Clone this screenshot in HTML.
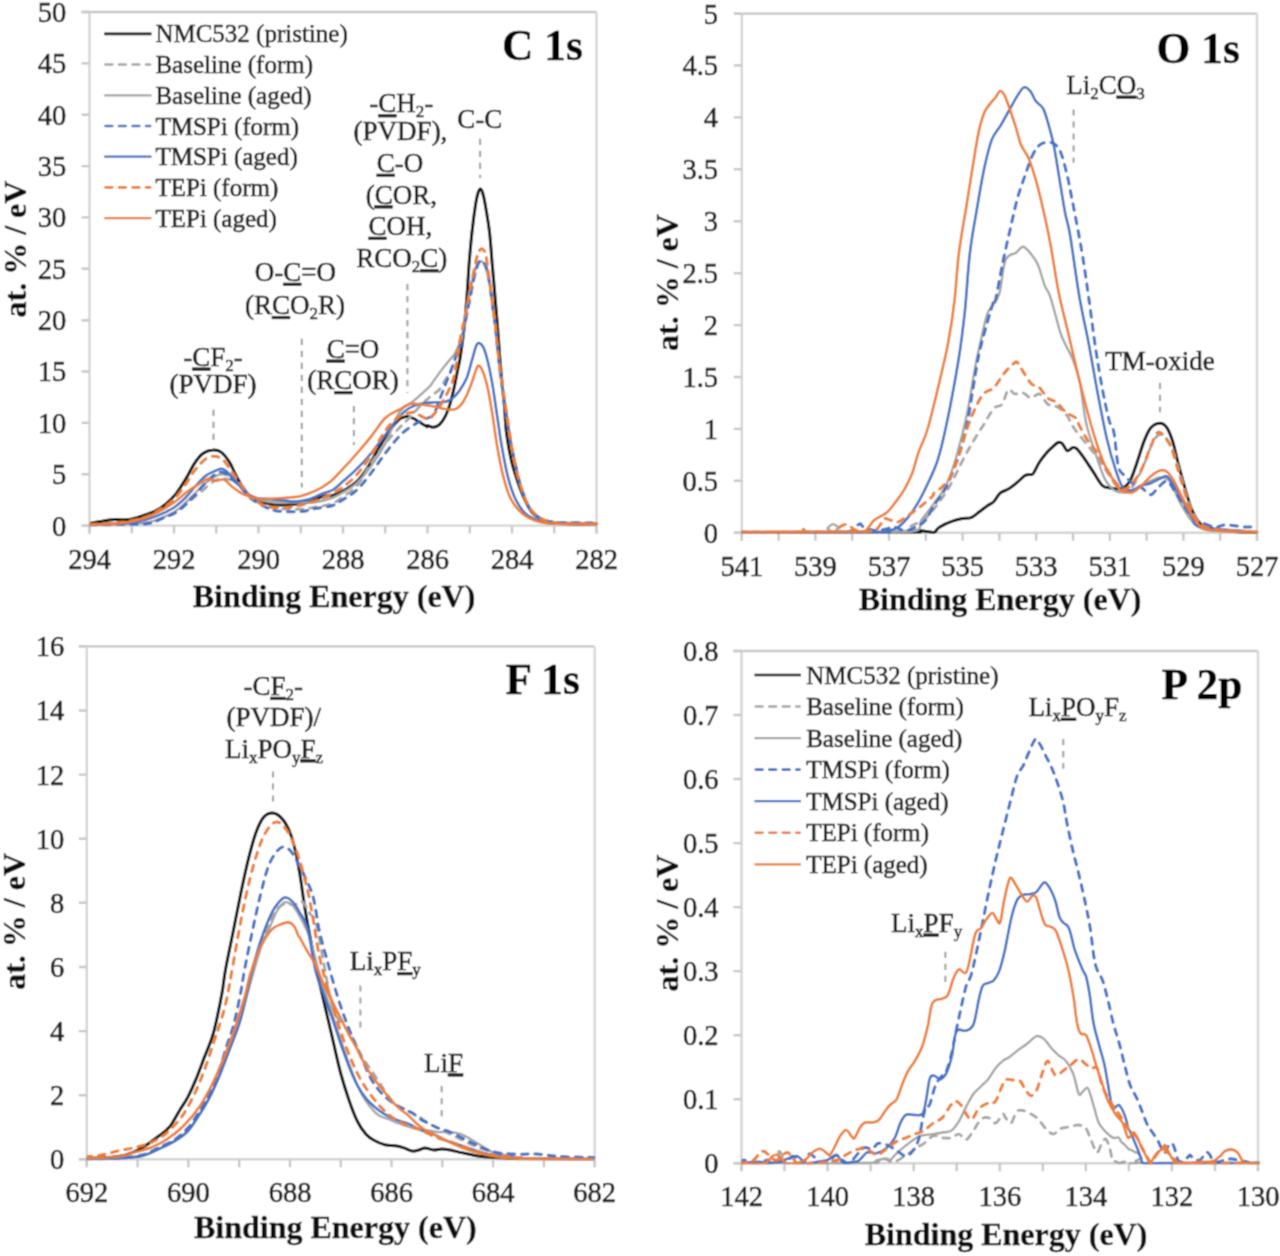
<!DOCTYPE html>
<html><head><meta charset="utf-8"><style>
html,body{margin:0;padding:0;background:#fff;}
svg{display:block;}
text{font-family:"Liberation Serif",serif;fill:#1e1e1e;stroke:#1e1e1e;stroke-width:0.55px;}
.tk{font-size:28.5px;}
.at{font-size:32px;font-weight:bold;fill:#111;stroke:#111;stroke-width:0.3px;}
.pt{font-size:43.5px;font-weight:bold;fill:#000;stroke:#000;stroke-width:0.3px;}
.lg{font-size:25px;}
.an{font-size:27px;}
.sb{font-size:17px;}
</style></head><body>
<svg width="1280" height="1256" viewBox="0 0 1280 1256">
<defs><filter id="bl" x="0" y="0" width="1280" height="1256" filterUnits="userSpaceOnUse"><feConvolveMatrix order="3" kernelMatrix="0.0439 0.1217 0.0439 0.1217 0.3377 0.1217 0.0439 0.1217 0.0439" edgeMode="duplicate" preserveAlpha="true"/></filter></defs>
<g filter="url(#bl)">
<rect width="1280" height="1256" fill="#fff"/>
<path d="M81.5 12.0H596.5" fill="none" stroke="#c6c6c6" stroke-width="2.4"/>
<path d="M596.5 12.0V533.6" fill="none" stroke="#d6d6d6" stroke-width="2.4"/>
<path d="M89.5 12.0V533.6M81.5 525.6H596.5" fill="none" stroke="#d4d4d4" stroke-width="2.4"/>
<path d="M81.5 525.6H89.5M81.5 474.2H89.5M81.5 422.9H89.5M81.5 371.5H89.5M81.5 320.2H89.5M81.5 268.8H89.5M81.5 217.4H89.5M81.5 166.1H89.5M81.5 114.7H89.5M81.5 63.4H89.5M81.5 12.0H89.5M89.5 525.6V533.6M131.8 525.6V533.6M174.0 525.6V533.6M216.2 525.6V533.6M258.5 525.6V533.6M300.8 525.6V533.6M343.0 525.6V533.6M385.2 525.6V533.6M427.5 525.6V533.6M469.8 525.6V533.6M512.0 525.6V533.6M554.2 525.6V533.6M596.5 525.6V533.6" fill="none" stroke="#c8c8c8" stroke-width="2.4"/>
<text x="66.3" y="535.5" text-anchor="end" class="tk">0</text>
<text x="66.3" y="484.1" text-anchor="end" class="tk">5</text>
<text x="66.3" y="432.8" text-anchor="end" class="tk">10</text>
<text x="66.3" y="381.4" text-anchor="end" class="tk">15</text>
<text x="66.3" y="330.1" text-anchor="end" class="tk">20</text>
<text x="66.3" y="278.7" text-anchor="end" class="tk">25</text>
<text x="66.3" y="227.3" text-anchor="end" class="tk">30</text>
<text x="66.3" y="176.0" text-anchor="end" class="tk">35</text>
<text x="66.3" y="124.6" text-anchor="end" class="tk">40</text>
<text x="66.3" y="73.3" text-anchor="end" class="tk">45</text>
<text x="66.3" y="21.9" text-anchor="end" class="tk">50</text>
<text x="89.5" y="568.6" text-anchor="middle" class="tk">294</text>
<text x="174.0" y="568.6" text-anchor="middle" class="tk">292</text>
<text x="258.5" y="568.6" text-anchor="middle" class="tk">290</text>
<text x="343.0" y="568.6" text-anchor="middle" class="tk">288</text>
<text x="427.5" y="568.6" text-anchor="middle" class="tk">286</text>
<text x="512.0" y="568.6" text-anchor="middle" class="tk">284</text>
<text x="596.5" y="568.6" text-anchor="middle" class="tk">282</text>
<path d="M733.8 13.6H1257.0" fill="none" stroke="#c6c6c6" stroke-width="2.4"/>
<path d="M1257.0 13.6V540.7" fill="none" stroke="#d6d6d6" stroke-width="2.4"/>
<path d="M741.8 13.6V540.7M733.8 532.7H1257.0" fill="none" stroke="#d4d4d4" stroke-width="2.4"/>
<path d="M733.8 532.7H741.8M733.8 480.8H741.8M733.8 428.9H741.8M733.8 377.0H741.8M733.8 325.1H741.8M733.8 273.2H741.8M733.8 221.2H741.8M733.8 169.3H741.8M733.8 117.4H741.8M733.8 65.5H741.8M733.8 13.6H741.8M741.8 532.7V540.7M778.6 532.7V540.7M815.4 532.7V540.7M852.2 532.7V540.7M889.0 532.7V540.7M925.8 532.7V540.7M962.6 532.7V540.7M999.4 532.7V540.7M1036.2 532.7V540.7M1073.0 532.7V540.7M1109.8 532.7V540.7M1146.6 532.7V540.7M1183.4 532.7V540.7M1220.2 532.7V540.7M1257.0 532.7V540.7" fill="none" stroke="#c8c8c8" stroke-width="2.4"/>
<text x="718.0" y="542.6" text-anchor="end" class="tk">0</text>
<text x="718.0" y="490.7" text-anchor="end" class="tk">0.5</text>
<text x="718.0" y="438.8" text-anchor="end" class="tk">1</text>
<text x="718.0" y="386.9" text-anchor="end" class="tk">1.5</text>
<text x="718.0" y="335.0" text-anchor="end" class="tk">2</text>
<text x="718.0" y="283.1" text-anchor="end" class="tk">2.5</text>
<text x="718.0" y="231.1" text-anchor="end" class="tk">3</text>
<text x="718.0" y="179.2" text-anchor="end" class="tk">3.5</text>
<text x="718.0" y="127.3" text-anchor="end" class="tk">4</text>
<text x="718.0" y="75.4" text-anchor="end" class="tk">4.5</text>
<text x="718.0" y="23.5" text-anchor="end" class="tk">5</text>
<text x="741.8" y="575.7" text-anchor="middle" class="tk">541</text>
<text x="815.4" y="575.7" text-anchor="middle" class="tk">539</text>
<text x="889.0" y="575.7" text-anchor="middle" class="tk">537</text>
<text x="962.6" y="575.7" text-anchor="middle" class="tk">535</text>
<text x="1036.2" y="575.7" text-anchor="middle" class="tk">533</text>
<text x="1109.8" y="575.7" text-anchor="middle" class="tk">531</text>
<text x="1183.4" y="575.7" text-anchor="middle" class="tk">529</text>
<text x="1257.0" y="575.7" text-anchor="middle" class="tk">527</text>
<path d="M78.8 646.4H594.7" fill="none" stroke="#c6c6c6" stroke-width="2.4"/>
<path d="M594.7 646.4V1167.3" fill="none" stroke="#d6d6d6" stroke-width="2.4"/>
<path d="M86.8 646.4V1167.3M78.8 1159.3H594.7" fill="none" stroke="#d4d4d4" stroke-width="2.4"/>
<path d="M78.8 1159.3H86.8M78.8 1095.2H86.8M78.8 1031.1H86.8M78.8 967.0H86.8M78.8 902.8H86.8M78.8 838.7H86.8M78.8 774.6H86.8M78.8 710.5H86.8M78.8 646.4H86.8M86.8 1159.3V1167.3M137.6 1159.3V1167.3M188.4 1159.3V1167.3M239.2 1159.3V1167.3M290.0 1159.3V1167.3M340.8 1159.3V1167.3M391.5 1159.3V1167.3M442.3 1159.3V1167.3M493.1 1159.3V1167.3M543.9 1159.3V1167.3M594.7 1159.3V1167.3" fill="none" stroke="#c8c8c8" stroke-width="2.4"/>
<text x="64.2" y="1169.2" text-anchor="end" class="tk">0</text>
<text x="64.2" y="1105.1" text-anchor="end" class="tk">2</text>
<text x="64.2" y="1041.0" text-anchor="end" class="tk">4</text>
<text x="64.2" y="976.9" text-anchor="end" class="tk">6</text>
<text x="64.2" y="912.7" text-anchor="end" class="tk">8</text>
<text x="64.2" y="848.6" text-anchor="end" class="tk">10</text>
<text x="64.2" y="784.5" text-anchor="end" class="tk">12</text>
<text x="64.2" y="720.4" text-anchor="end" class="tk">14</text>
<text x="64.2" y="656.3" text-anchor="end" class="tk">16</text>
<text x="86.8" y="1202.3" text-anchor="middle" class="tk">692</text>
<text x="188.4" y="1202.3" text-anchor="middle" class="tk">690</text>
<text x="290.0" y="1202.3" text-anchor="middle" class="tk">688</text>
<text x="391.5" y="1202.3" text-anchor="middle" class="tk">686</text>
<text x="493.1" y="1202.3" text-anchor="middle" class="tk">684</text>
<text x="594.7" y="1202.3" text-anchor="middle" class="tk">682</text>
<path d="M733.5 651.0H1258.0" fill="none" stroke="#c6c6c6" stroke-width="2.4"/>
<path d="M1258.0 651.0V1171.2" fill="none" stroke="#d6d6d6" stroke-width="2.4"/>
<path d="M741.5 651.0V1171.2M733.5 1163.2H1258.0" fill="none" stroke="#d4d4d4" stroke-width="2.4"/>
<path d="M733.5 1163.2H741.5M733.5 1099.2H741.5M733.5 1035.2H741.5M733.5 971.1H741.5M733.5 907.1H741.5M733.5 843.1H741.5M733.5 779.0H741.5M733.5 715.0H741.5M733.5 651.0H741.5M741.5 1163.2V1171.2M784.5 1163.2V1171.2M827.6 1163.2V1171.2M870.6 1163.2V1171.2M913.7 1163.2V1171.2M956.7 1163.2V1171.2M999.8 1163.2V1171.2M1042.8 1163.2V1171.2M1085.8 1163.2V1171.2M1128.9 1163.2V1171.2M1171.9 1163.2V1171.2M1215.0 1163.2V1171.2M1258.0 1163.2V1171.2" fill="none" stroke="#c8c8c8" stroke-width="2.4"/>
<text x="718.5" y="1173.1" text-anchor="end" class="tk">0</text>
<text x="718.5" y="1109.1" text-anchor="end" class="tk">0.1</text>
<text x="718.5" y="1045.1" text-anchor="end" class="tk">0.2</text>
<text x="718.5" y="981.0" text-anchor="end" class="tk">0.3</text>
<text x="718.5" y="917.0" text-anchor="end" class="tk">0.4</text>
<text x="718.5" y="853.0" text-anchor="end" class="tk">0.5</text>
<text x="718.5" y="788.9" text-anchor="end" class="tk">0.6</text>
<text x="718.5" y="724.9" text-anchor="end" class="tk">0.7</text>
<text x="718.5" y="660.9" text-anchor="end" class="tk">0.8</text>
<text x="741.5" y="1206.2" text-anchor="middle" class="tk">142</text>
<text x="827.6" y="1206.2" text-anchor="middle" class="tk">140</text>
<text x="913.7" y="1206.2" text-anchor="middle" class="tk">138</text>
<text x="999.8" y="1206.2" text-anchor="middle" class="tk">136</text>
<text x="1085.8" y="1206.2" text-anchor="middle" class="tk">134</text>
<text x="1171.9" y="1206.2" text-anchor="middle" class="tk">132</text>
<text x="1258.0" y="1206.2" text-anchor="middle" class="tk">130</text>
<text x="334" y="606.8" text-anchor="middle" class="at">Binding Energy (eV)</text>
<text x="1000" y="610" text-anchor="middle" class="at">Binding Energy (eV)</text>
<text x="335.3" y="1237.5" text-anchor="middle" class="at">Binding Energy (eV)</text>
<text x="1006" y="1245" text-anchor="middle" class="at">Binding Energy (eV)</text>
<text transform="translate(25.6 249) rotate(-90)" text-anchor="middle" class="at">at. % / eV</text>
<text transform="translate(678 282.5) rotate(-90)" text-anchor="middle" class="at">at. % / eV</text>
<text transform="translate(25.2 921.4) rotate(-90)" text-anchor="middle" class="at">at. % / eV</text>
<text transform="translate(678 923) rotate(-90)" text-anchor="middle" class="at">at. % / eV</text>
<text x="583" y="60.3" text-anchor="end" class="pt">C 1s</text>
<text x="1240" y="62.5" text-anchor="end" class="pt">O 1s</text>
<text x="580" y="694.3" text-anchor="end" class="pt">F 1s</text>
<text x="1242.5" y="699" text-anchor="end" class="pt">P 2p</text>
<path d="M104.2 33.8H151.5" stroke="#111111" stroke-width="2.7" fill="none"/>
<text x="155.4" y="42.3" class="lg">NMC532 (pristine)</text>
<path d="M105.5 64.5H150.2" stroke="#a5a5a5" stroke-width="2.6" fill="none" stroke-dasharray="6.8 6.7" stroke-linecap="round"/>
<text x="155.4" y="73.0" class="lg">Baseline (form)</text>
<path d="M104.2 95.3H151.5" stroke="#a5a5a5" stroke-width="2.3" fill="none"/>
<text x="155.4" y="103.8" class="lg">Baseline (aged)</text>
<path d="M105.5 126.0H150.2" stroke="#4472c4" stroke-width="2.6" fill="none" stroke-dasharray="6.8 6.7" stroke-linecap="round"/>
<text x="155.4" y="134.5" class="lg">TMSPi (form)</text>
<path d="M104.2 156.7H151.5" stroke="#4472c4" stroke-width="2.3" fill="none"/>
<text x="155.4" y="165.2" class="lg">TMSPi (aged)</text>
<path d="M105.5 187.4H150.2" stroke="#ed7d31" stroke-width="2.6" fill="none" stroke-dasharray="6.8 6.7" stroke-linecap="round"/>
<text x="155.4" y="195.9" class="lg">TEPi (form)</text>
<path d="M104.2 218.2H151.5" stroke="#ed7d31" stroke-width="2.3" fill="none"/>
<text x="155.4" y="226.7" class="lg">TEPi (aged)</text>
<path d="M754.5 675.0H801.0" stroke="#111111" stroke-width="2.7" fill="none"/>
<text x="806.2" y="683.5" class="lg">NMC532 (pristine)</text>
<path d="M755.8 706.5H799.7" stroke="#a5a5a5" stroke-width="2.6" fill="none" stroke-dasharray="6.8 6.7" stroke-linecap="round"/>
<text x="806.2" y="715.0" class="lg">Baseline (form)</text>
<path d="M754.5 738.1H801.0" stroke="#a5a5a5" stroke-width="2.3" fill="none"/>
<text x="806.2" y="746.6" class="lg">Baseline (aged)</text>
<path d="M755.8 769.6H799.7" stroke="#4472c4" stroke-width="2.6" fill="none" stroke-dasharray="6.8 6.7" stroke-linecap="round"/>
<text x="806.2" y="778.1" class="lg">TMSPi (form)</text>
<path d="M754.5 801.2H801.0" stroke="#4472c4" stroke-width="2.3" fill="none"/>
<text x="806.2" y="809.7" class="lg">TMSPi (aged)</text>
<path d="M755.8 832.8H799.7" stroke="#ed7d31" stroke-width="2.6" fill="none" stroke-dasharray="6.8 6.7" stroke-linecap="round"/>
<text x="806.2" y="841.2" class="lg">TEPi (form)</text>
<path d="M754.5 864.3H801.0" stroke="#ed7d31" stroke-width="2.3" fill="none"/>
<text x="806.2" y="872.8" class="lg">TEPi (aged)</text>
<text x="213" y="365.8" text-anchor="middle" class="an">-<tspan text-decoration="underline">C</tspan>F<tspan class="sb" dy="5">2</tspan><tspan dy="-5">​</tspan>-</text>
<text x="213" y="393.0" text-anchor="middle" class="an">(PVDF)</text>
<path d="M213.5 409.8V441.3" stroke="#a0a0a0" stroke-width="2.1" stroke-dasharray="6.2 5.8" fill="none"/>
<text x="295.3" y="281.0" text-anchor="middle" class="an">O-<tspan text-decoration="underline">C</tspan>=O</text>
<text x="295.0" y="314.2" text-anchor="middle" class="an">(R<tspan text-decoration="underline">C</tspan>O<tspan class="sb" dy="5">2</tspan><tspan dy="-5">​</tspan>R)</text>
<path d="M301.8 338.8V487.6" stroke="#a0a0a0" stroke-width="2.1" stroke-dasharray="6.2 5.8" fill="none"/>
<text x="353.0" y="357.8" text-anchor="middle" class="an"><tspan text-decoration="underline">C</tspan>=O</text>
<text x="353.0" y="389.3" text-anchor="middle" class="an">(R<tspan text-decoration="underline">C</tspan>OR)</text>
<path d="M353.9 406.0V445.0" stroke="#a0a0a0" stroke-width="2.1" stroke-dasharray="6.2 5.8" fill="none"/>
<text x="401.3" y="112.4" text-anchor="middle" class="an">-<tspan text-decoration="underline">C</tspan>H<tspan class="sb" dy="5">2</tspan><tspan dy="-5">​</tspan>-</text>
<text x="400.5" y="140.4" text-anchor="middle" class="an">(PVDF),</text>
<text x="400.0" y="172.0" text-anchor="middle" class="an"><tspan text-decoration="underline">C</tspan>-O</text>
<text x="401.3" y="203.5" text-anchor="middle" class="an">(<tspan text-decoration="underline">C</tspan>OR,</text>
<text x="400.4" y="235.0" text-anchor="middle" class="an"><tspan text-decoration="underline">C</tspan>OH,</text>
<text x="401.8" y="267.4" text-anchor="middle" class="an">RCO<tspan class="sb" dy="5">2</tspan><tspan dy="-5">​</tspan><tspan text-decoration="underline">C</tspan>)</text>
<path d="M407.4 284.0V393.0" stroke="#a0a0a0" stroke-width="2.1" stroke-dasharray="6.2 5.8" fill="none"/>
<text x="479.8" y="127.5" text-anchor="middle" class="an">C-C</text>
<path d="M480.1 138.7V178.0" stroke="#a0a0a0" stroke-width="2.1" stroke-dasharray="6.2 5.8" fill="none"/>
<text x="1066.2" y="93.9" text-anchor="start" class="an">Li<tspan class="sb" dy="5">2</tspan><tspan dy="-5">​</tspan>C<tspan text-decoration="underline">O</tspan><tspan class="sb" dy="5">3</tspan><tspan dy="-5">​</tspan></text>
<path d="M1073.6 109.4V162.8" stroke="#a0a0a0" stroke-width="2.1" stroke-dasharray="6.2 5.8" fill="none"/>
<text x="1160.0" y="370.1" text-anchor="middle" class="an">TM-oxide</text>
<path d="M1160.0 382.7V412.2" stroke="#a0a0a0" stroke-width="2.1" stroke-dasharray="6.2 5.8" fill="none"/>
<text x="273.3" y="695.1" text-anchor="middle" class="an">-C<tspan text-decoration="underline">F</tspan><tspan class="sb" dy="5">2</tspan><tspan dy="-5">​</tspan>-</text>
<text x="273.8" y="726.3" text-anchor="middle" class="an">(PVDF)/</text>
<text x="274.0" y="757.5" text-anchor="middle" class="an">Li<tspan class="sb" dy="5">x</tspan><tspan dy="-5">​</tspan>PO<tspan class="sb" dy="5">y</tspan><tspan dy="-5">​</tspan><tspan text-decoration="underline">F</tspan><tspan class="sb" dy="5">z</tspan><tspan dy="-5">​</tspan></text>
<path d="M273.0 771.4V802.7" stroke="#a0a0a0" stroke-width="2.1" stroke-dasharray="6.2 5.8" fill="none"/>
<text x="349.8" y="970.3" text-anchor="start" class="an">Li<tspan class="sb" dy="5">x</tspan><tspan dy="-5">​</tspan>P<tspan text-decoration="underline">F</tspan><tspan class="sb" dy="5">y</tspan><tspan dy="-5">​</tspan></text>
<path d="M360.4 985.4V1027.7" stroke="#a0a0a0" stroke-width="2.1" stroke-dasharray="6.2 5.8" fill="none"/>
<text x="424.0" y="1071.6" text-anchor="start" class="an">Li<tspan text-decoration="underline">F</tspan></text>
<path d="M441.7 1086.0V1117.0" stroke="#a0a0a0" stroke-width="2.1" stroke-dasharray="6.2 5.8" fill="none"/>
<text x="1028.5" y="716.0" text-anchor="start" class="an">Li<tspan class="sb" dy="5">x</tspan><tspan dy="-5">​</tspan><tspan text-decoration="underline">P</tspan>O<tspan class="sb" dy="5">y</tspan><tspan dy="-5">​</tspan>F<tspan class="sb" dy="5">z</tspan><tspan dy="-5">​</tspan></text>
<path d="M1063.3 739.0V768.7" stroke="#a0a0a0" stroke-width="2.1" stroke-dasharray="6.2 5.8" fill="none"/>
<text x="891.1" y="931.8" text-anchor="start" class="an">Li<tspan class="sb" dy="5">x</tspan><tspan dy="-5">​</tspan><tspan text-decoration="underline">P</tspan>F<tspan class="sb" dy="5">y</tspan><tspan dy="-5">​</tspan></text>
<path d="M945.4 951.8V982.0" stroke="#a0a0a0" stroke-width="2.1" stroke-dasharray="6.2 5.8" fill="none"/>
<clipPath id="clipC"><rect x="89.5" y="8.0" width="508.5" height="518.6"/></clipPath>
<g clip-path="url(#clipC)" fill="none" stroke-linejoin="round">
<path d="M90.0 523.5C92.0 523.1 97.6 521.9 101.8 521.3C106.0 520.6 110.8 519.9 115.2 519.6C119.7 519.3 124.2 520.2 128.7 519.6C133.2 519.0 137.6 517.4 142.1 515.9C146.6 514.4 151.6 512.8 155.5 510.9C159.5 508.9 162.3 506.9 165.6 504.1C169.0 501.3 172.3 498.3 175.7 494.1C179.1 489.9 182.7 484.0 185.8 478.9C188.9 473.9 191.4 468.0 194.2 463.8C197.0 459.6 199.5 456.0 202.6 453.8C205.7 451.5 209.6 450.3 212.7 450.1C215.7 449.8 218.3 450.1 221.1 452.1C223.9 454.1 226.9 458.2 229.5 462.1C232.0 466.1 233.9 471.4 236.2 475.6C238.4 479.8 240.7 484.0 242.9 487.3C245.1 490.7 247.1 493.5 249.6 495.7C252.1 498.0 254.6 499.4 258.0 500.8C261.4 502.2 265.6 503.4 269.8 504.1C274.0 504.8 276.8 505.3 283.2 505.0C289.6 504.7 301.6 503.6 308.1 502.2C314.6 500.8 318.0 497.7 322.2 496.6C326.4 495.4 329.9 496.1 333.4 495.2C337.0 494.2 339.3 493.3 343.3 490.9C347.3 488.6 353.4 484.8 357.3 481.1C361.3 477.3 363.7 473.8 367.2 468.4C370.7 463.0 374.7 455.1 378.4 448.8C382.2 442.4 386.2 435.4 389.7 430.5C393.2 425.5 396.7 421.6 399.5 419.2C402.3 416.9 404.2 416.5 406.6 416.4C408.9 416.3 410.3 416.9 413.6 418.5C416.9 420.2 423.9 425.2 426.3 426.3C428.6 427.5 426.5 425.4 427.7 425.5C428.8 425.7 431.3 427.4 433.3 427.2C435.2 427.1 437.4 426.5 439.4 424.6C441.5 422.7 443.8 419.2 445.5 415.8C447.3 412.5 448.5 409.3 449.9 404.4C451.4 399.6 453.0 392.8 454.3 386.9C455.6 381.1 456.8 374.5 457.8 369.4C458.8 364.3 459.3 363.7 460.4 356.3C461.5 348.9 463.4 335.2 464.5 325.0C465.6 314.8 466.2 305.0 467.0 295.0C467.8 285.0 468.2 275.5 469.0 265.0C469.8 254.5 470.9 242.0 472.0 232.0C473.1 222.0 474.5 211.5 475.5 205.0C476.5 198.5 477.2 195.7 478.0 193.0C478.8 190.3 479.5 188.9 480.3 188.9C481.1 188.9 481.9 190.3 482.7 193.0C483.5 195.7 484.2 198.5 485.3 205.0C486.4 211.5 488.3 222.0 489.5 232.0C490.7 242.0 491.3 253.7 492.3 265.0C493.3 276.3 494.4 289.2 495.3 300.0C496.2 310.8 497.0 320.0 497.8 330.0C498.6 340.0 499.2 350.3 500.0 360.0C500.8 369.7 501.7 380.0 502.5 388.0C503.3 396.0 504.0 400.9 504.6 408.0C505.2 415.1 505.2 422.4 506.2 430.8C507.3 439.1 509.0 449.9 510.8 458.0C512.5 466.1 514.5 472.4 516.8 479.2C519.1 486.0 521.6 493.0 524.4 498.8C527.2 504.6 529.4 510.2 533.5 514.0C537.5 517.7 542.3 519.9 548.6 521.5C554.9 523.2 563.2 523.4 571.3 523.8C579.3 524.2 592.7 523.8 597.0 523.8" stroke="#111111" stroke-width="3.0"/>
<path d="M90.0 524.6C96.2 524.5 117.2 524.3 127.0 524.0C136.8 523.6 142.9 523.5 148.8 522.6C154.7 521.7 157.8 520.1 162.3 518.4C166.7 516.7 171.8 514.8 175.7 512.5C179.6 510.3 182.7 507.5 185.8 505.0C188.9 502.5 191.4 499.8 194.2 497.4C197.0 495.0 199.8 493.1 202.6 490.7C205.4 488.3 208.2 485.1 211.0 483.1C213.8 481.2 216.9 479.6 219.4 478.9C221.9 478.2 223.9 478.7 226.1 478.9C228.3 479.2 230.3 479.2 232.8 480.6C235.3 482.0 238.4 484.8 241.2 487.3C244.0 489.9 246.0 492.8 249.6 495.7C253.2 498.7 258.6 502.9 263.0 505.0C267.5 507.1 270.3 507.6 276.5 508.3C282.6 509.0 293.6 509.4 300.0 509.2C306.4 509.0 309.8 508.0 315.2 507.1C320.5 506.2 327.3 505.4 332.0 503.6C336.7 501.8 339.1 499.6 343.3 496.6C347.5 493.5 352.7 490.9 357.3 485.3C362.0 479.7 366.7 469.8 371.4 462.8C376.1 455.8 380.8 449.0 385.5 443.1C390.2 437.3 395.6 431.8 399.5 427.7C403.4 423.5 405.8 421.6 408.8 418.5C411.8 415.3 414.6 411.9 417.5 408.8C420.4 405.8 423.4 402.7 426.3 400.1C429.2 397.4 432.8 394.8 435.0 393.1C437.2 391.3 438.0 391.3 439.4 389.6C440.9 387.8 441.9 385.8 443.8 382.5C445.7 379.3 448.8 374.7 450.8 370.3C452.8 365.9 454.4 360.7 456.1 356.3C457.7 351.9 459.3 349.8 460.8 344.0C462.4 338.1 463.9 328.8 465.4 321.3C466.9 313.7 468.4 306.1 469.9 298.6C471.4 291.0 473.1 281.7 474.5 275.9C475.8 270.1 477.2 266.2 478.2 263.8C479.2 261.4 479.6 261.6 480.5 261.5C481.4 261.4 482.5 261.9 483.5 263.0C484.5 264.2 485.6 264.9 486.6 268.3C487.6 271.7 488.6 277.2 489.6 283.5C490.6 289.8 491.6 298.6 492.6 306.1C493.6 313.7 494.8 321.3 495.6 328.8C496.5 336.4 497.0 343.4 497.9 351.5C498.8 359.7 499.7 368.4 500.9 377.8C502.2 387.2 504.0 398.0 505.5 408.1C507.0 418.2 508.4 429.0 510.0 438.3C511.6 447.7 513.4 455.7 515.3 464.0C517.2 472.4 518.8 480.7 521.4 488.2C523.9 495.8 526.9 504.3 530.4 509.4C534.0 514.6 538.2 517.1 542.5 519.3C546.8 521.4 547.1 521.6 556.1 522.3C565.2 523.0 590.2 523.2 597.0 523.3" stroke="#a5a5a5" stroke-width="2.8" stroke-dasharray="6.6 6.9" stroke-linecap="round"/>
<path d="M90.0 524.6C96.2 524.5 117.2 524.4 127.0 524.0C136.8 523.6 142.9 523.3 148.8 522.3C154.7 521.2 157.8 519.5 162.3 517.6C166.7 515.7 171.8 513.4 175.7 510.9C179.6 508.3 182.7 505.3 185.8 502.5C188.9 499.7 191.4 496.9 194.2 494.1C197.0 491.3 199.8 488.2 202.6 485.7C205.4 483.1 208.2 480.8 211.0 478.9C213.8 477.1 216.9 475.4 219.4 474.7C221.9 474.0 223.9 474.2 226.1 474.7C228.3 475.3 230.3 476.1 232.8 478.1C235.3 480.1 238.4 483.7 241.2 486.5C244.0 489.3 246.0 492.5 249.6 494.9C253.2 497.3 258.6 499.5 263.0 500.8C267.5 502.0 270.3 502.2 276.5 502.5C282.6 502.7 293.6 502.5 300.0 502.5C306.4 502.4 309.8 502.9 315.2 502.2C320.5 501.4 327.3 499.6 332.0 498.0C336.7 496.3 339.1 494.9 343.3 492.3C347.5 489.8 352.7 487.0 357.3 482.5C362.0 478.0 366.7 472.2 371.4 465.6C376.1 459.1 380.8 452.0 385.5 443.1C390.2 434.2 394.8 419.2 399.5 412.2C404.2 405.2 408.9 404.9 413.6 400.9C418.3 397.0 424.8 390.9 427.7 388.3C430.5 385.7 429.4 386.7 430.7 385.2C431.9 383.6 433.1 381.7 435.0 379.0C436.9 376.4 439.7 372.5 442.0 369.4C444.4 366.3 447.0 363.1 449.0 360.7C451.1 358.2 452.5 357.4 454.3 354.5C456.1 351.6 458.2 346.2 459.6 343.1C460.9 340.1 461.1 342.6 462.4 336.4C463.6 330.2 465.4 315.0 466.9 306.1C468.4 297.3 469.9 290.0 471.4 283.5C472.9 276.9 474.6 270.5 476.0 266.8C477.4 263.2 478.6 262.3 479.8 261.5C480.9 260.8 481.8 261.1 482.8 262.3C483.8 263.4 484.7 264.8 485.8 268.3C486.9 271.9 488.5 277.2 489.6 283.5C490.7 289.8 491.6 298.6 492.6 306.1C493.6 313.7 494.8 321.3 495.6 328.8C496.5 336.4 497.0 343.4 497.9 351.5C498.8 359.7 499.7 368.4 500.9 377.8C502.2 387.2 504.0 398.0 505.5 408.1C507.0 418.2 508.4 429.0 510.0 438.3C511.6 447.7 513.4 455.7 515.3 464.0C517.2 472.4 518.8 480.7 521.4 488.2C523.9 495.8 526.9 504.3 530.4 509.4C534.0 514.6 538.2 517.1 542.5 519.3C546.8 521.4 547.1 521.6 556.1 522.3C565.2 523.0 590.2 523.2 597.0 523.3" stroke="#a5a5a5" stroke-width="2.4"/>
<path d="M90.0 525.1C96.2 525.0 117.2 524.6 127.0 524.3C136.8 524.0 142.9 524.4 148.8 523.5C154.7 522.5 157.8 520.2 162.3 518.4C166.7 516.6 171.8 514.9 175.7 512.5C179.6 510.2 182.4 507.2 185.8 504.1C189.1 501.1 192.5 497.7 195.9 494.1C199.2 490.4 202.6 485.7 205.9 482.3C209.3 478.9 213.2 475.6 216.0 473.9C218.8 472.2 220.5 471.7 222.7 472.2C225.0 472.8 226.7 475.0 229.5 477.3C232.3 479.5 236.2 482.3 239.5 485.7C242.9 489.0 245.7 494.1 249.6 497.4C253.5 500.8 258.6 503.6 263.0 505.8C267.5 508.1 270.3 509.9 276.5 510.9C282.6 511.8 293.6 512.1 300.0 511.7C306.4 511.3 309.8 509.5 315.2 508.5C320.5 507.5 327.3 507.2 332.0 505.7C336.7 504.2 339.1 502.1 343.3 499.4C347.5 496.7 352.7 494.0 357.3 489.5C362.0 485.1 366.7 478.8 371.4 472.7C376.1 466.6 380.8 459.1 385.5 453.0C390.2 446.9 395.6 440.2 399.5 436.1C403.4 431.9 405.8 430.3 408.8 428.1C411.8 425.9 414.6 424.4 417.5 422.8C420.4 421.2 423.6 419.8 426.3 418.5C428.9 417.1 431.1 418.0 433.3 415.0C435.5 411.9 437.4 405.2 439.4 400.1C441.5 395.0 443.6 389.1 445.5 384.3C447.4 379.5 449.0 375.8 450.8 371.2C452.5 366.5 454.4 360.8 456.1 356.3C457.7 351.7 459.3 349.8 460.8 344.0C462.4 338.1 463.9 328.8 465.4 321.3C466.9 313.7 468.4 306.1 469.9 298.6C471.4 291.0 473.1 281.7 474.5 275.9C475.8 270.1 477.2 266.3 478.2 263.8C479.2 261.3 479.6 261.0 480.5 260.8C481.4 260.5 482.5 261.0 483.5 262.3C484.5 263.5 485.6 264.8 486.6 268.3C487.6 271.9 488.6 277.2 489.6 283.5C490.6 289.8 491.6 298.6 492.6 306.1C493.6 313.7 494.8 321.3 495.6 328.8C496.5 336.4 497.0 343.4 497.9 351.5C498.8 359.7 499.7 368.4 500.9 377.8C502.2 387.2 504.0 398.0 505.5 408.1C507.0 418.2 508.4 429.0 510.0 438.3C511.6 447.7 513.4 455.7 515.3 464.0C517.2 472.4 518.8 480.7 521.4 488.2C523.9 495.8 526.9 504.3 530.4 509.4C534.0 514.6 538.2 517.1 542.5 519.3C546.8 521.4 547.1 521.7 556.1 522.3C565.2 522.9 590.2 522.9 597.0 523.0" stroke="#4472c4" stroke-width="3.0" stroke-dasharray="6.6 6.9" stroke-linecap="round"/>
<path d="M90.0 524.3C94.8 524.2 110.2 524.0 118.6 523.5C127.0 522.9 134.0 522.2 140.4 520.9C146.9 519.7 151.6 518.1 157.2 515.9C162.8 513.7 169.3 510.6 174.0 507.5C178.8 504.4 182.1 501.1 185.8 497.4C189.4 493.8 192.5 489.3 195.9 485.7C199.2 482.0 202.6 478.1 205.9 475.6C209.3 473.1 213.2 471.7 216.0 470.5C218.8 469.4 220.2 468.0 222.7 468.9C225.3 469.7 228.3 472.8 231.1 475.6C233.9 478.4 236.7 482.6 239.5 485.7C242.3 488.7 244.9 492.0 247.9 494.1C251.0 496.2 254.4 497.4 258.0 498.3C261.6 499.1 265.0 498.7 269.8 499.1C274.5 499.5 282.5 500.4 286.6 500.8C290.6 501.2 290.5 501.7 294.1 501.5C297.7 501.2 303.4 500.7 308.1 499.4C312.8 498.1 318.0 495.4 322.2 493.8C326.4 492.1 329.9 491.6 333.4 489.5C337.0 487.4 339.3 484.6 343.3 481.1C347.3 477.6 352.7 473.1 357.3 468.4C362.0 463.8 366.7 458.6 371.4 453.0C376.1 447.3 380.8 440.8 385.5 434.7C390.2 428.6 395.5 420.9 399.5 416.4C403.5 412.0 405.9 410.1 409.4 408.0C412.9 405.9 416.4 404.7 420.6 403.8C424.8 402.8 430.5 402.7 434.7 402.3C438.8 402.0 442.6 402.5 445.5 401.8C448.5 401.1 450.2 400.2 452.5 398.3C454.9 396.4 457.2 393.8 459.6 390.4C461.9 387.1 464.5 383.1 466.6 378.2C468.6 373.2 470.2 366.1 471.8 360.7C473.4 355.3 475.0 348.7 476.2 345.8C477.4 342.8 477.8 342.7 479.0 343.0C480.2 343.3 482.0 344.3 483.5 347.6C485.0 350.8 486.6 356.4 488.1 362.7C489.6 369.0 491.1 376.6 492.6 385.4C494.1 394.2 495.6 405.6 497.1 415.6C498.7 425.7 499.9 435.8 501.7 445.9C503.5 456.0 505.5 467.3 507.7 476.1C510.0 485.0 512.3 492.5 515.3 498.8C518.3 505.1 521.6 510.2 525.9 514.0C530.2 517.7 536.0 519.9 541.0 521.5C546.1 523.2 546.8 523.4 556.1 523.8C565.5 524.2 590.2 523.8 597.0 523.8" stroke="#4472c4" stroke-width="2.6"/>
<path d="M90.0 524.3C94.8 524.0 109.6 523.7 118.6 522.6C127.6 521.5 136.8 519.8 143.8 517.6C150.8 515.3 155.5 512.3 160.6 509.2C165.6 506.1 169.8 503.3 174.0 499.1C178.2 494.9 182.1 489.0 185.8 484.0C189.4 478.9 192.5 473.1 195.9 468.9C199.2 464.7 202.9 460.9 205.9 458.8C209.0 456.7 211.5 456.1 214.3 456.3C217.1 456.4 219.9 457.2 222.7 459.6C225.5 462.0 228.3 466.8 231.1 470.5C233.9 474.3 236.7 478.4 239.5 482.3C242.3 486.2 244.9 490.7 247.9 494.1C251.0 497.4 254.4 500.4 258.0 502.5C261.6 504.6 265.0 505.8 269.8 506.7C274.5 507.5 281.3 507.8 286.6 507.5C291.8 507.2 296.3 506.1 301.1 505.0C305.9 503.9 310.5 502.4 315.2 500.8C319.8 499.1 324.5 497.5 329.2 495.2C333.9 492.8 338.6 490.2 343.3 486.7C348.0 483.2 352.7 479.5 357.3 474.1C362.0 468.7 366.7 461.6 371.4 454.4C376.1 447.1 380.8 436.8 385.5 430.5C390.2 424.1 394.8 419.5 399.5 416.4C404.2 413.4 410.6 412.6 413.6 412.2C416.6 411.8 415.4 413.0 417.5 414.1C419.6 415.1 424.1 417.9 426.3 418.5C428.5 419.0 428.9 418.9 430.7 417.6C432.4 416.3 434.9 413.1 436.8 410.6C438.7 408.1 440.1 405.9 442.0 402.7C443.9 399.5 446.1 395.8 448.2 391.3C450.2 386.8 452.4 383.4 454.3 375.5C456.2 367.7 457.7 353.0 459.3 344.0C460.9 334.9 462.4 328.8 463.9 321.3C465.4 313.7 466.9 306.1 468.4 298.6C469.9 291.0 471.4 283.2 472.9 275.9C474.5 268.6 476.3 259.0 477.5 254.7C478.6 250.4 479.0 251.2 479.8 250.2C480.5 249.2 481.3 248.5 482.0 248.7C482.8 248.8 483.7 249.9 484.3 250.9C484.9 251.9 485.0 250.6 485.8 254.7C486.6 258.9 487.8 268.6 488.8 275.9C489.8 283.2 490.8 291.0 491.9 298.6C492.9 306.1 494.0 313.7 494.9 321.3C495.8 328.8 496.3 335.8 497.1 344.0C498.0 352.1 498.9 360.8 500.2 370.3C501.4 379.7 503.2 390.4 504.7 400.5C506.2 410.6 507.7 421.2 509.3 430.8C510.8 440.3 512.0 449.2 513.8 458.0C515.6 466.8 517.3 475.6 519.8 483.7C522.4 491.8 525.4 500.6 528.9 506.4C532.4 512.2 536.5 515.7 541.0 518.5C545.6 521.3 546.8 522.2 556.1 523.0C565.5 523.9 590.2 523.7 597.0 523.8" stroke="#ed7d31" stroke-width="3.0" stroke-dasharray="6.6 6.9" stroke-linecap="round"/>
<path d="M90.0 524.3C94.8 524.2 110.2 524.3 118.6 523.5C127.0 522.6 134.0 521.1 140.4 519.3C146.9 517.4 151.6 515.3 157.2 512.5C162.8 509.7 169.0 506.0 174.0 502.5C179.1 499.0 183.3 494.6 187.5 491.5C191.7 488.5 195.9 486.1 199.2 484.0C202.6 481.9 204.8 479.5 207.6 478.9C210.4 478.4 213.2 480.5 216.0 480.6C218.8 480.8 221.6 478.7 224.4 479.8C227.2 480.9 229.7 485.0 232.8 487.3C235.9 489.7 239.5 492.4 242.9 494.1C246.2 495.7 249.6 496.6 253.0 497.4C256.3 498.3 258.8 499.0 263.0 499.1C267.2 499.2 273.5 498.6 278.2 498.3C282.9 498.0 287.4 497.7 291.2 497.3C295.1 496.9 297.1 496.9 301.1 495.9C305.1 494.8 310.5 493.2 315.2 490.9C319.8 488.7 324.5 486.2 329.2 482.5C333.9 478.8 338.6 473.4 343.3 468.4C348.0 463.5 352.7 458.4 357.3 453.0C362.0 447.6 366.7 442.0 371.4 436.1C376.1 430.2 380.8 422.3 385.5 417.8C390.2 413.4 395.3 411.7 399.5 409.4C403.8 407.0 407.3 404.6 410.8 403.8C414.3 402.9 416.6 404.0 420.6 404.5C424.6 404.9 430.8 405.8 434.7 406.6C438.5 407.3 441.1 408.3 443.8 408.8C446.5 409.3 448.8 409.7 450.8 409.7C452.8 409.7 454.3 409.7 456.1 408.8C457.8 407.9 459.6 406.6 461.3 404.4C463.1 402.3 464.8 399.3 466.6 395.7C468.3 392.0 470.2 386.9 471.8 382.5C473.4 378.2 475.0 372.2 476.2 369.4C477.4 366.6 477.8 365.1 479.0 365.7C480.2 366.4 482.0 369.2 483.5 373.3C485.0 377.3 486.6 382.9 488.1 389.9C489.6 397.0 491.1 406.3 492.6 415.6C494.1 425.0 495.4 435.8 497.1 445.9C498.9 456.0 500.9 467.3 503.2 476.1C505.5 485.0 507.5 492.5 510.8 498.8C514.0 505.1 518.3 510.2 522.9 514.0C527.4 517.7 532.4 519.9 538.0 521.5C543.5 523.2 546.3 523.4 556.1 523.8C566.0 524.2 590.2 523.8 597.0 523.8" stroke="#ed7d31" stroke-width="2.6"/>
</g>
<clipPath id="clipO"><rect x="741.8" y="9.6" width="516.7" height="524.1"/></clipPath>
<g clip-path="url(#clipO)" fill="none" stroke-linejoin="round">
<path d="M740.0 532.3C767.8 532.3 878.1 532.4 906.7 532.3C935.4 532.3 909.9 532.3 911.9 532.0C913.9 531.7 916.2 530.7 918.8 530.6C921.3 530.5 924.8 531.2 927.3 531.5C929.9 531.8 932.2 533.1 934.2 532.3C936.2 531.6 936.3 529.1 939.4 527.2C942.4 525.3 948.5 522.6 952.5 521.2C956.4 519.7 959.7 519.1 962.8 518.5C965.9 517.9 968.3 518.7 971.1 517.6C973.8 516.5 976.6 513.8 979.4 511.8C982.1 509.8 985.2 507.4 987.6 505.6C990.1 503.9 991.8 503.6 993.9 501.5C995.9 499.4 997.6 495.3 1000.1 493.2C1002.5 491.1 1005.6 490.8 1008.3 489.1C1011.1 487.4 1013.9 485.1 1016.6 482.9C1019.4 480.6 1022.8 477.0 1024.9 475.6C1027.0 474.2 1027.7 474.9 1029.0 474.6C1030.4 474.2 1031.5 475.6 1033.2 473.6C1034.9 471.5 1037.3 465.4 1039.4 462.2C1041.5 458.9 1043.5 456.3 1045.6 453.9C1047.7 451.5 1049.7 449.6 1051.8 447.7C1053.9 445.8 1056.3 443.2 1058.0 442.5C1059.8 441.8 1060.6 442.2 1062.2 443.5C1063.7 444.9 1065.6 450.1 1067.3 450.8C1069.1 451.5 1071.0 448.0 1072.5 447.7C1074.1 447.3 1074.8 447.0 1076.7 448.7C1078.5 450.4 1081.1 454.0 1083.9 457.8C1086.6 461.6 1090.0 467.0 1093.1 471.7C1096.2 476.3 1099.6 482.8 1102.3 485.5C1105.0 488.2 1107.0 487.2 1109.3 487.8C1111.6 488.4 1113.9 489.0 1116.2 489.0C1118.5 489.0 1120.8 489.2 1123.1 487.8C1125.4 486.5 1127.7 485.1 1130.0 480.9C1132.4 476.7 1134.7 469.0 1137.0 462.4C1139.3 455.9 1141.6 447.4 1143.9 441.6C1146.2 435.9 1148.1 430.9 1150.8 427.8C1153.5 424.7 1157.4 423.2 1160.1 423.2C1162.8 423.2 1164.9 424.7 1167.0 427.8C1169.1 430.9 1170.8 435.5 1172.8 441.6C1174.7 447.8 1176.4 456.6 1178.5 464.7C1180.7 472.8 1183.2 482.4 1185.5 490.1C1187.8 497.8 1189.7 505.1 1192.4 510.9C1195.1 516.7 1197.8 521.7 1201.6 524.8C1205.5 527.8 1209.7 528.2 1215.5 529.4C1221.2 530.5 1229.3 531.1 1236.3 531.7C1243.2 532.3 1253.6 532.6 1257.0 532.8" stroke="#111111" stroke-width="3.0"/>
<path d="M740.0 532.3C765.8 532.2 866.0 532.8 894.7 531.7C923.3 530.5 906.7 527.7 911.9 525.5C917.0 523.2 921.2 521.7 925.5 518.1C929.9 514.4 933.8 509.1 938.0 503.6C942.1 498.0 946.2 492.2 950.4 484.9C954.5 477.7 959.0 467.3 962.8 460.1C966.6 452.9 969.7 447.3 973.2 441.5C976.6 435.6 980.1 430.4 983.5 424.9C987.0 419.4 990.7 411.8 993.9 408.3C997.0 404.9 999.7 407.3 1002.1 404.2C1004.5 401.1 1006.3 391.4 1008.3 389.7C1010.4 388.0 1012.1 393.3 1014.6 393.9C1017.0 394.4 1020.1 392.1 1022.8 392.8C1025.6 393.5 1028.4 397.8 1031.1 398.0C1033.9 398.2 1036.6 392.8 1039.4 393.9C1042.2 394.9 1044.9 402.1 1047.7 404.2C1050.4 406.3 1052.9 404.5 1056.0 406.3C1059.1 408.0 1063.2 410.8 1066.3 414.6C1069.4 418.3 1070.9 423.8 1074.6 429.0C1078.3 434.3 1084.6 441.5 1088.5 446.3C1092.3 451.1 1094.6 453.6 1097.7 457.8C1100.8 462.0 1103.9 467.0 1107.0 471.7C1110.0 476.3 1113.1 482.0 1116.2 485.5C1119.3 489.0 1122.4 492.8 1125.4 492.4C1128.5 492.1 1131.6 487.8 1134.7 483.2C1137.7 478.6 1140.8 471.7 1143.9 464.7C1147.0 457.8 1150.4 446.6 1153.1 441.6C1155.8 436.6 1157.8 435.1 1160.1 434.7C1162.4 434.3 1164.7 436.3 1167.0 439.3C1169.3 442.4 1171.6 447.0 1173.9 453.2C1176.2 459.3 1178.5 468.6 1180.8 476.3C1183.2 484.0 1185.5 492.8 1187.8 499.4C1190.1 505.9 1192.0 511.1 1194.7 515.5C1197.4 520.0 1199.7 523.4 1203.9 525.9C1208.2 528.4 1211.2 529.5 1220.1 530.5C1228.9 531.6 1250.9 531.9 1257.0 532.1" stroke="#a5a5a5" stroke-width="2.8" stroke-dasharray="6.6 6.9" stroke-linecap="round"/>
<path d="M740.0 532.3C753.8 532.3 807.9 532.7 822.5 532.0C837.1 531.3 825.9 529.4 827.7 528.0C829.4 526.7 831.1 524.3 832.8 524.1C834.5 523.9 836.2 525.6 838.0 526.8C839.7 528.1 830.8 530.7 843.1 531.5C855.4 532.3 898.8 533.4 911.9 531.5C924.9 529.6 917.7 524.8 921.4 520.1C925.1 515.5 929.7 509.4 933.8 503.6C938.0 497.7 942.4 492.9 946.2 484.9C950.0 477.0 953.1 467.7 956.6 456.0C960.0 444.2 963.8 429.4 966.9 414.6C970.0 399.7 972.8 379.7 975.2 366.9C977.6 354.2 979.4 346.9 981.4 338.0C983.5 329.0 985.2 319.3 987.6 313.1C990.1 306.9 993.9 304.5 995.9 300.7C998.0 296.9 998.6 296.8 1000.1 290.4C1001.5 283.9 1003.0 268.2 1004.7 262.3C1006.3 256.4 1008.3 256.5 1010.2 255.0C1012.0 253.4 1013.5 254.5 1015.7 253.1C1017.8 251.7 1020.5 246.7 1023.0 246.7C1025.4 246.7 1027.9 250.2 1030.3 253.1C1032.7 256.0 1035.2 258.6 1037.6 264.1C1040.1 269.6 1042.8 280.6 1045.0 286.1C1047.1 291.6 1047.9 289.5 1050.4 297.1C1053.0 304.7 1057.5 323.6 1060.1 331.8C1062.7 339.9 1064.2 341.8 1066.3 346.2C1068.4 350.7 1070.2 352.5 1072.5 358.7C1074.8 364.9 1077.7 372.8 1080.0 383.5C1082.2 394.3 1083.6 411.6 1086.2 423.2C1088.8 434.8 1092.3 443.9 1095.4 453.2C1098.5 462.4 1101.6 472.4 1104.6 478.6C1107.7 484.7 1110.8 487.8 1113.9 490.1C1117.0 492.4 1120.0 492.4 1123.1 492.4C1126.2 492.4 1129.3 491.3 1132.4 490.1C1135.4 489.0 1138.5 487.0 1141.6 485.5C1144.7 484.0 1147.7 482.2 1150.8 480.9C1153.9 479.5 1157.0 477.4 1160.1 477.4C1163.1 477.4 1166.2 477.2 1169.3 480.9C1172.4 484.5 1175.5 493.6 1178.5 499.4C1181.6 505.1 1184.7 511.1 1187.8 515.5C1190.8 520.0 1193.2 523.4 1197.0 525.9C1200.9 528.4 1200.9 529.5 1210.9 530.5C1220.9 531.6 1249.3 531.9 1257.0 532.1" stroke="#a5a5a5" stroke-width="2.4"/>
<path d="M740.0 532.3C757.2 532.3 823.6 533.1 843.1 532.0C862.6 530.9 854.0 526.8 856.9 525.5C859.7 524.1 859.2 523.5 860.3 523.8C861.5 524.0 861.2 526.0 863.8 527.2C866.3 528.3 872.1 530.3 875.8 530.6C879.5 530.9 882.9 529.5 886.1 528.9C889.2 528.3 891.5 526.9 894.7 527.2C897.8 527.5 901.6 530.6 905.0 530.6C908.4 530.6 911.9 528.9 915.3 527.2C918.8 525.5 922.5 523.9 925.6 520.3C928.7 516.7 930.4 511.2 933.8 505.6C937.3 500.1 942.1 495.3 946.2 487.0C950.4 478.7 955.2 466.3 958.7 456.0C962.1 445.6 964.5 436.3 966.9 424.9C969.4 413.5 971.1 399.7 973.2 387.6C975.2 375.6 976.9 363.5 979.4 352.5C981.8 341.4 985.2 330.0 987.6 321.4C990.1 312.8 992.5 304.3 993.9 300.7C995.2 297.1 994.0 306.4 995.5 300.0C997.0 293.6 1000.4 274.1 1002.8 262.3C1005.3 250.5 1007.7 240.0 1010.2 229.3C1012.6 218.6 1015.0 207.0 1017.5 198.2C1019.9 189.3 1022.4 183.2 1024.8 176.2C1027.3 169.2 1029.7 161.3 1032.1 156.1C1034.6 150.9 1036.7 147.4 1039.5 145.1C1042.2 142.8 1045.9 142.3 1048.6 142.3C1051.4 142.3 1053.8 143.1 1055.9 145.1C1058.1 147.1 1059.6 149.4 1061.4 154.2C1063.3 159.1 1065.5 168.6 1066.9 174.4C1068.4 180.2 1067.6 176.4 1070.0 189.0C1072.5 201.6 1078.5 232.1 1081.6 250.0C1084.6 267.9 1086.2 280.0 1088.5 296.2C1090.8 312.3 1093.1 331.6 1095.4 347.0C1097.7 362.4 1100.0 376.2 1102.3 388.5C1104.6 400.8 1107.3 413.5 1109.3 420.9C1111.2 428.2 1112.3 424.7 1113.9 432.4C1115.4 440.1 1116.6 459.7 1118.5 467.0C1120.4 474.3 1123.1 473.6 1125.4 476.3C1127.7 479.0 1129.7 481.3 1132.4 483.2C1135.1 485.1 1138.5 485.9 1141.6 487.8C1144.7 489.7 1148.1 494.7 1150.8 494.7C1153.5 494.7 1155.1 490.1 1157.8 487.8C1160.4 485.5 1164.3 480.5 1167.0 480.9C1169.7 481.3 1171.2 486.3 1173.9 490.1C1176.6 494.0 1180.1 499.4 1183.2 504.0C1186.2 508.6 1189.3 514.8 1192.4 517.8C1195.5 520.9 1197.8 520.9 1201.6 522.5C1205.5 524.0 1211.6 526.7 1215.5 527.1C1219.3 527.5 1221.2 525.0 1224.7 524.8C1228.2 524.6 1232.4 525.5 1236.3 525.9C1240.1 526.3 1244.3 527.1 1247.8 527.1C1251.3 527.1 1255.5 526.1 1257.0 525.9" stroke="#4472c4" stroke-width="3.0" stroke-dasharray="6.6 6.9" stroke-linecap="round"/>
<path d="M740.0 532.3C762.9 532.3 853.2 532.5 877.5 532.3C901.8 532.2 882.7 532.3 886.1 531.5C889.5 530.6 894.4 529.6 898.1 527.2C901.8 524.8 905.0 521.2 908.4 516.9C911.9 512.6 915.3 507.4 918.8 501.4C922.2 495.4 925.9 487.7 929.1 480.8C932.2 473.9 934.8 469.3 937.7 460.2C940.5 451.0 942.7 442.7 946.2 425.8C949.8 408.9 955.6 377.8 958.7 358.7C961.8 339.5 963.0 328.6 964.9 311.1C966.7 293.5 967.8 270.4 969.9 253.1C971.9 235.8 974.8 221.7 977.2 207.3C979.6 193.0 982.1 178.3 984.5 167.1C987.0 155.8 989.1 146.6 991.8 139.6C994.6 132.6 998.0 130.1 1001.0 124.9C1004.1 119.7 1007.4 113.3 1010.2 108.5C1012.9 103.6 1015.2 99.1 1017.5 95.6C1019.8 92.1 1021.8 88.2 1023.9 87.4C1026.0 86.6 1028.3 88.8 1030.3 91.1C1032.3 93.3 1033.7 98.2 1035.8 101.1C1037.9 104.0 1041.0 104.5 1043.1 108.5C1045.3 112.4 1046.8 118.5 1048.6 124.9C1050.4 131.3 1052.3 137.8 1054.1 146.9C1055.9 156.1 1057.8 168.9 1059.6 179.9C1061.4 190.9 1063.4 203.7 1065.1 212.8C1066.8 222.0 1067.7 220.9 1070.0 234.8C1072.4 248.7 1076.2 278.3 1079.3 296.2C1082.3 314.1 1085.4 326.2 1088.5 342.4C1091.6 358.5 1094.6 377.0 1097.7 393.2C1100.8 409.3 1103.9 426.2 1107.0 439.3C1110.0 452.4 1113.5 463.6 1116.2 471.7C1118.9 479.7 1120.4 484.7 1123.1 487.8C1125.8 490.9 1129.3 490.5 1132.4 490.1C1135.4 489.7 1138.5 486.7 1141.6 485.5C1144.7 484.4 1147.7 484.4 1150.8 483.2C1153.9 482.0 1157.4 479.7 1160.1 478.6C1162.8 477.4 1164.7 475.1 1167.0 476.3C1169.3 477.4 1171.2 481.3 1173.9 485.5C1176.6 489.7 1180.1 496.3 1183.2 501.7C1186.2 507.1 1189.3 513.6 1192.4 517.8C1195.5 522.1 1190.8 524.7 1201.6 527.1C1212.4 529.5 1247.8 531.3 1257.0 532.1" stroke="#4472c4" stroke-width="2.6"/>
<path d="M740.0 532.3C749.5 532.3 786.7 532.4 796.7 532.0C806.7 531.6 799.0 530.2 800.2 529.8C801.3 529.3 802.4 529.0 803.6 529.2C804.7 529.5 801.6 531.1 807.0 531.5C812.5 531.9 830.8 532.2 836.2 531.5C841.7 530.8 838.3 528.3 839.7 527.2C841.1 526.0 843.1 524.8 844.8 524.6C846.6 524.5 848.0 525.3 850.0 526.3C852.0 527.3 852.9 529.9 856.9 530.6C860.9 531.3 870.1 531.8 874.1 530.6C878.1 529.5 879.2 525.8 880.9 523.8C882.7 521.7 882.7 519.2 884.4 518.6C886.1 518.0 889.0 519.7 891.2 520.3C893.5 520.9 895.3 522.9 898.1 522.0C901.0 521.2 904.7 517.7 908.4 515.2C912.2 512.6 916.5 509.7 920.5 506.6C924.5 503.4 930.3 498.5 932.5 496.2C934.7 494.0 932.2 494.8 933.8 493.2C935.4 491.7 939.3 489.8 942.1 487.0C944.9 484.2 947.6 481.8 950.4 476.7C953.1 471.5 955.9 463.9 958.7 456.0C961.4 448.0 964.2 437.0 966.9 429.0C969.7 421.1 972.5 414.2 975.2 408.3C978.0 402.5 980.4 397.3 983.5 393.9C986.6 390.4 990.4 391.1 993.9 387.6C997.3 384.2 1000.8 377.3 1004.2 373.2C1007.7 369.0 1012.3 364.5 1014.6 362.8C1016.8 361.1 1016.3 361.4 1017.7 362.8C1019.0 364.2 1020.6 367.6 1022.8 371.1C1025.1 374.5 1028.4 380.7 1031.1 383.5C1033.9 386.3 1036.6 385.2 1039.4 387.6C1042.2 390.1 1044.9 395.6 1047.7 398.0C1050.4 400.4 1052.9 399.7 1056.0 402.1C1059.1 404.5 1062.9 409.7 1066.3 412.5C1069.8 415.2 1074.5 416.5 1076.7 418.7C1078.8 420.9 1077.3 421.7 1079.3 425.5C1081.2 429.3 1085.4 437.0 1088.5 441.6C1091.6 446.3 1094.6 448.6 1097.7 453.2C1100.8 457.8 1103.9 464.3 1107.0 469.3C1110.0 474.3 1113.5 479.7 1116.2 483.2C1118.9 486.7 1120.4 490.1 1123.1 490.1C1125.8 490.1 1129.3 486.7 1132.4 483.2C1135.4 479.7 1138.5 475.5 1141.6 469.3C1144.7 463.2 1148.1 452.4 1150.8 446.3C1153.5 440.1 1155.4 433.9 1157.8 432.4C1160.1 430.9 1162.4 434.3 1164.7 437.0C1167.0 439.7 1169.3 442.8 1171.6 448.6C1173.9 454.3 1176.2 464.0 1178.5 471.7C1180.8 479.4 1183.2 487.8 1185.5 494.7C1187.8 501.7 1189.7 508.2 1192.4 513.2C1195.1 518.2 1197.8 522.1 1201.6 524.8C1205.5 527.5 1206.2 528.1 1215.5 529.4C1224.7 530.6 1250.1 531.7 1257.0 532.1" stroke="#ed7d31" stroke-width="3.0" stroke-dasharray="6.6 6.9" stroke-linecap="round"/>
<path d="M740.0 532.3C750.0 532.3 780.1 532.1 800.2 532.0C820.2 531.9 849.1 532.0 860.3 531.5C871.5 531.0 864.9 530.8 867.2 528.9C869.5 527.0 871.5 522.6 874.1 520.3C876.6 518.0 880.4 516.6 882.7 515.2C884.9 513.7 885.8 513.7 887.8 511.7C889.8 509.7 892.1 506.6 894.7 503.1C897.3 499.7 900.4 496.0 903.3 491.1C906.1 486.2 909.3 480.5 911.9 473.9C914.5 467.3 916.1 459.0 918.8 451.6C921.4 444.1 924.1 441.1 927.6 429.0C931.2 417.0 936.6 393.9 940.0 379.4C943.5 364.9 945.9 355.2 948.3 342.1C950.7 329.0 952.8 315.5 954.5 300.7C956.3 285.9 956.9 268.7 958.9 253.1C960.8 237.6 963.8 222.6 966.2 207.3C968.7 192.1 971.4 174.4 973.5 161.6C975.7 148.7 977.2 138.7 979.0 130.4C980.9 122.2 982.7 116.5 984.5 112.1C986.4 107.7 988.2 106.3 990.0 103.9C991.8 101.4 993.8 99.6 995.5 97.5C997.2 95.3 998.6 91.4 1000.1 91.1C1001.6 90.8 1003.0 92.4 1004.7 95.6C1006.3 98.8 1008.3 105.1 1010.2 110.3C1012.0 115.5 1013.8 121.0 1015.7 126.8C1017.5 132.6 1019.0 139.9 1021.1 145.1C1023.3 150.3 1026.0 152.1 1028.5 157.9C1030.9 163.7 1033.4 171.3 1035.8 179.9C1038.2 188.4 1040.7 198.5 1043.1 209.2C1045.6 219.9 1047.9 230.2 1050.4 244.0C1053.0 257.7 1055.6 277.1 1058.5 291.6C1061.3 306.0 1064.6 317.7 1067.7 330.8C1070.8 343.9 1073.9 357.4 1076.9 370.1C1080.0 382.8 1083.1 395.5 1086.2 407.0C1089.3 418.6 1092.3 429.7 1095.4 439.3C1098.5 449.0 1101.6 457.8 1104.6 464.7C1107.7 471.7 1111.2 476.7 1113.9 480.9C1116.6 485.1 1117.7 488.2 1120.8 490.1C1123.9 492.1 1128.9 493.2 1132.4 492.4C1135.8 491.7 1138.5 488.2 1141.6 485.5C1144.7 482.8 1147.7 478.8 1150.8 476.3C1153.9 473.8 1157.4 471.3 1160.1 470.5C1162.8 469.7 1164.7 469.9 1167.0 471.7C1169.3 473.4 1171.2 476.3 1173.9 480.9C1176.6 485.5 1180.1 493.6 1183.2 499.4C1186.2 505.1 1189.3 510.9 1192.4 515.5C1195.5 520.1 1197.8 524.6 1201.6 527.1C1205.5 529.6 1206.2 529.7 1215.5 530.5C1224.7 531.4 1250.1 531.9 1257.0 532.1" stroke="#ed7d31" stroke-width="2.6"/>
</g>
<clipPath id="clipF"><rect x="86.8" y="642.4" width="509.4" height="517.9"/></clipPath>
<g clip-path="url(#clipF)" fill="none" stroke-linejoin="round">
<path d="M85.0 1158.3C89.1 1158.2 102.7 1158.0 109.5 1157.5C116.3 1156.9 120.4 1156.7 125.8 1155.0C131.2 1153.4 136.7 1150.8 142.1 1147.7C147.6 1144.6 153.8 1139.8 158.4 1136.3C163.1 1132.7 166.3 1130.8 169.9 1126.5C173.4 1122.1 176.7 1115.1 179.7 1110.2C182.7 1105.3 185.1 1102.3 187.8 1097.1C190.5 1091.9 193.3 1085.7 196.0 1079.1C198.7 1072.6 201.4 1065.0 204.1 1057.9C206.9 1050.9 210.1 1043.5 212.3 1036.7C214.5 1029.9 215.6 1024.5 217.2 1017.1C218.8 1009.8 220.7 1000.5 222.1 992.6C223.5 984.8 223.6 980.3 225.4 970.2C227.2 960.1 230.5 944.7 233.1 932.0C235.6 919.2 238.2 905.9 240.7 893.8C243.2 881.7 245.8 869.6 248.3 859.4C250.9 849.2 253.4 839.6 256.0 832.6C258.5 825.6 260.9 820.6 263.6 817.3C266.3 814.1 269.4 813.1 272.2 813.1C275.1 813.1 278.1 814.7 280.8 817.3C283.5 819.9 286.2 824.0 288.5 828.8C290.7 833.6 292.3 838.3 294.2 846.0C296.1 853.6 298.0 863.5 299.9 874.6C301.8 885.8 303.1 898.1 305.7 912.9C308.2 927.6 312.3 948.6 315.3 963.3C318.3 978.0 320.9 989.0 323.8 1001.3C326.6 1013.6 329.4 1025.2 332.2 1037.1C335.0 1049.1 337.8 1062.5 340.6 1073.0C343.5 1083.6 346.3 1092.4 349.1 1100.4C351.9 1108.5 354.7 1115.9 357.5 1121.5C360.3 1127.2 363.1 1131.0 366.0 1134.2C368.8 1137.4 371.2 1138.8 374.4 1140.5C377.6 1142.3 381.4 1143.9 384.9 1144.7C388.5 1145.6 392.3 1145.3 395.5 1145.8C398.7 1146.3 401.1 1147.0 403.9 1147.9C406.7 1148.8 409.9 1150.7 412.4 1151.1C414.8 1151.4 416.6 1150.5 418.7 1150.0C420.8 1149.5 422.6 1147.9 425.0 1147.9C427.5 1147.9 430.7 1149.8 433.5 1150.0C436.3 1150.2 439.1 1149.0 441.9 1149.0C444.7 1149.0 447.5 1149.5 450.4 1150.0C453.2 1150.5 455.6 1151.4 458.8 1152.1C462.0 1152.8 465.8 1153.5 469.3 1154.2C472.9 1154.9 474.6 1155.8 479.9 1156.3C485.2 1156.9 492.6 1157.4 501.0 1157.8C509.3 1158.3 514.5 1158.8 530.0 1159.0C545.5 1159.2 583.3 1159.2 594.0 1159.3" stroke="#111111" stroke-width="3.0"/>
<path d="M85.0 1159.1C90.4 1159.0 108.1 1158.9 117.6 1158.3C127.2 1157.7 135.3 1157.2 142.1 1155.5C148.9 1153.9 153.0 1151.0 158.4 1148.5C163.9 1146.0 169.9 1143.5 174.8 1140.4C179.7 1137.2 183.7 1134.2 187.8 1129.7C191.9 1125.3 195.7 1119.0 199.3 1113.4C202.8 1107.8 205.8 1102.8 209.0 1096.3C212.3 1089.8 215.8 1081.5 218.8 1074.3C221.8 1067.0 224.3 1060.1 227.0 1053.0C229.7 1046.0 232.7 1038.6 235.2 1031.8C237.6 1025.0 238.5 1023.1 241.7 1012.2C244.8 1001.3 250.7 978.2 254.1 966.4C257.4 954.6 259.2 948.5 261.7 941.5C264.3 934.5 266.8 929.7 269.4 924.3C271.9 918.9 274.1 912.5 277.0 909.0C279.9 905.5 283.7 903.9 286.6 903.3C289.4 902.7 291.7 905.5 294.2 905.2C296.8 904.9 299.3 900.1 301.8 901.4C304.4 902.7 306.9 908.4 309.5 912.9C312.0 917.3 313.3 912.7 317.1 928.2C320.9 943.6 327.6 989.1 332.2 1005.5C336.8 1021.9 341.3 1021.0 344.9 1026.6C348.4 1032.2 350.5 1034.3 353.3 1039.3C356.1 1044.2 358.9 1051.2 361.7 1056.1C364.5 1061.1 367.4 1064.6 370.2 1068.8C373.0 1073.0 375.8 1077.2 378.6 1081.4C381.4 1085.7 384.2 1090.2 387.1 1094.1C389.9 1098.0 392.7 1102.2 395.5 1104.7C398.3 1107.1 400.4 1107.1 403.9 1108.9C407.4 1110.6 412.4 1112.7 416.6 1115.2C420.8 1117.7 425.0 1121.2 429.3 1123.6C433.5 1126.1 437.7 1127.9 441.9 1130.0C446.1 1132.1 450.4 1134.2 454.6 1136.3C458.8 1138.4 463.0 1140.7 467.2 1142.6C471.4 1144.6 474.3 1145.8 479.9 1147.9C485.5 1150.0 494.3 1153.6 501.0 1155.3C507.7 1156.9 516.0 1157.3 520.0 1157.8C524.0 1158.4 518.3 1158.3 525.0 1158.5C531.7 1158.7 548.5 1158.9 560.0 1159.0C571.5 1159.1 588.3 1159.2 594.0 1159.3" stroke="#a5a5a5" stroke-width="2.8" stroke-dasharray="6.6 6.9" stroke-linecap="round"/>
<path d="M85.0 1159.1C90.4 1159.0 108.1 1158.9 117.6 1158.3C127.2 1157.7 135.3 1157.1 142.1 1155.5C148.9 1154.0 153.0 1151.5 158.4 1149.0C163.9 1146.5 169.9 1143.4 174.8 1140.4C179.7 1137.3 183.7 1134.9 187.8 1130.6C191.9 1126.2 195.7 1119.7 199.3 1114.2C202.8 1108.8 205.8 1104.2 209.0 1097.9C212.3 1091.7 215.8 1083.8 218.8 1076.7C221.8 1069.6 224.3 1062.6 227.0 1055.5C229.7 1048.4 232.7 1041.1 235.2 1034.3C237.6 1027.5 238.5 1025.4 241.7 1014.7C244.8 1004.0 250.7 981.7 254.1 970.2C257.4 958.6 259.2 952.4 261.7 945.4C264.3 938.3 266.8 933.9 269.4 928.2C271.9 922.4 274.5 915.3 277.0 911.0C279.6 906.7 282.1 903.3 284.6 902.4C287.2 901.4 289.7 902.8 292.3 905.2C294.8 907.6 297.4 912.2 299.9 916.7C302.5 921.1 305.7 927.7 307.6 932.0C309.4 936.2 309.1 935.2 311.1 942.2C313.1 949.2 316.7 964.0 319.5 973.8C322.4 983.7 325.2 992.5 328.0 1001.3C330.8 1010.1 333.6 1018.2 336.4 1026.6C339.2 1035.0 342.0 1043.8 344.9 1051.9C347.7 1060.0 350.5 1068.1 353.3 1075.1C356.1 1082.2 358.9 1088.8 361.7 1094.1C364.5 1099.4 367.4 1103.3 370.2 1106.8C373.0 1110.3 375.4 1113.1 378.6 1115.2C381.8 1117.3 385.6 1118.0 389.2 1119.4C392.7 1120.8 395.8 1122.2 399.7 1123.6C403.6 1125.1 408.2 1126.8 412.4 1127.9C416.6 1128.9 420.8 1129.3 425.0 1130.0C429.3 1130.7 433.5 1131.7 437.7 1132.1C441.9 1132.4 446.5 1131.7 450.4 1132.1C454.2 1132.4 457.7 1133.1 460.9 1134.2C464.1 1135.3 466.2 1136.7 469.3 1138.4C472.5 1140.2 476.0 1142.5 479.9 1144.7C483.8 1147.0 485.9 1149.9 492.5 1152.1C499.2 1154.3 514.6 1156.8 520.0 1157.8C525.4 1158.9 518.3 1158.3 525.0 1158.5C531.7 1158.7 548.5 1158.9 560.0 1159.0C571.5 1159.1 588.3 1159.2 594.0 1159.3" stroke="#a5a5a5" stroke-width="2.4"/>
<path d="M85.0 1159.1C90.4 1159.0 108.1 1159.0 117.6 1158.3C127.2 1157.6 135.3 1156.8 142.1 1155.0C148.9 1153.3 153.0 1150.3 158.4 1147.7C163.9 1145.1 169.9 1142.8 174.8 1139.5C179.7 1136.3 183.7 1132.7 187.8 1128.1C191.9 1123.5 195.7 1117.5 199.3 1111.8C202.8 1106.1 205.8 1100.6 209.0 1093.8C212.3 1087.0 215.8 1079.1 218.8 1071.0C221.8 1062.8 224.6 1052.5 227.0 1044.9C229.4 1037.3 231.4 1033.4 233.5 1025.3C235.7 1017.1 238.2 1005.1 240.1 995.9C241.9 986.7 242.5 980.8 244.5 970.2C246.5 959.5 249.6 944.1 252.2 932.0C254.7 919.9 257.3 908.1 259.8 897.6C262.4 887.1 264.9 876.2 267.5 868.9C270.0 861.6 272.5 857.3 275.1 853.6C277.6 850.0 280.2 847.4 282.7 846.9C285.3 846.5 287.8 848.1 290.4 850.8C292.9 853.5 295.5 858.6 298.0 863.2C300.6 867.8 303.1 872.7 305.7 878.5C308.2 884.2 311.0 888.7 313.3 897.6C315.6 906.4 317.1 920.7 319.5 931.6C322.0 942.6 325.2 953.1 328.0 963.3C330.8 973.5 333.6 983.7 336.4 992.8C339.2 1002.0 342.0 1010.4 344.9 1018.2C347.7 1025.9 350.5 1032.6 353.3 1039.3C356.1 1045.9 358.9 1051.9 361.7 1058.2C364.5 1064.6 367.4 1072.0 370.2 1077.2C373.0 1082.5 375.8 1086.4 378.6 1089.9C381.4 1093.4 384.2 1095.9 387.1 1098.3C389.9 1100.8 392.7 1102.9 395.5 1104.7C398.3 1106.4 401.1 1107.5 403.9 1108.9C406.7 1110.3 409.6 1111.3 412.4 1113.1C415.2 1114.9 418.0 1117.7 420.8 1119.4C423.6 1121.2 426.4 1122.2 429.3 1123.6C432.1 1125.1 434.2 1126.5 437.7 1127.9C441.2 1129.3 446.1 1130.3 450.4 1132.1C454.6 1133.8 458.8 1136.3 463.0 1138.4C467.2 1140.5 471.4 1142.8 475.7 1144.7C479.9 1146.7 484.1 1148.6 488.3 1150.0C492.5 1151.4 495.7 1152.5 501.0 1153.2C506.3 1153.9 514.0 1154.1 520.0 1154.2C526.0 1154.4 530.3 1153.6 537.0 1154.0C543.7 1154.4 550.5 1155.9 560.0 1156.5C569.5 1157.1 588.3 1157.3 594.0 1157.5" stroke="#4472c4" stroke-width="3.0" stroke-dasharray="6.6 6.9" stroke-linecap="round"/>
<path d="M85.0 1159.1C90.4 1159.0 108.1 1158.9 117.6 1158.3C127.2 1157.8 135.3 1157.4 142.1 1155.9C148.9 1154.4 153.0 1151.8 158.4 1149.3C163.9 1146.9 169.9 1144.2 174.8 1141.2C179.7 1138.2 183.7 1135.7 187.8 1131.4C191.9 1127.0 195.7 1120.5 199.3 1115.1C202.8 1109.6 205.8 1105.0 209.0 1098.7C212.3 1092.5 215.8 1084.6 218.8 1077.5C221.8 1070.4 224.3 1063.4 227.0 1056.3C229.7 1049.2 232.7 1041.9 235.2 1035.1C237.6 1028.3 238.9 1026.3 241.7 1015.5C244.5 1004.7 249.1 982.2 252.2 970.2C255.2 958.2 257.3 951.4 259.8 943.4C262.4 935.5 264.9 928.5 267.5 922.4C270.0 916.4 272.2 911.3 275.1 907.1C278.0 903.0 281.8 898.5 284.6 897.6C287.5 896.6 289.7 898.9 292.3 901.4C294.8 903.9 297.4 908.4 299.9 912.9C302.5 917.3 305.0 918.7 307.6 928.2C310.1 937.6 312.6 958.5 315.3 969.6C318.0 980.8 320.9 986.9 323.8 994.9C326.6 1003.0 329.4 1010.1 332.2 1018.2C335.0 1026.2 337.8 1035.4 340.6 1043.5C343.5 1051.6 346.3 1059.6 349.1 1066.7C351.9 1073.7 354.7 1080.4 357.5 1085.7C360.3 1090.9 363.1 1094.8 366.0 1098.3C368.8 1101.8 371.6 1104.3 374.4 1106.8C377.2 1109.2 379.3 1111.0 382.8 1113.1C386.4 1115.2 391.3 1117.7 395.5 1119.4C399.7 1121.2 403.9 1121.9 408.2 1123.6C412.4 1125.4 416.6 1128.2 420.8 1130.0C425.0 1131.7 429.3 1132.4 433.5 1134.2C437.7 1136.0 441.9 1138.8 446.1 1140.5C450.4 1142.3 454.6 1143.3 458.8 1144.7C463.0 1146.2 467.2 1147.6 471.4 1149.0C475.7 1150.4 479.2 1152.0 484.1 1153.2C489.0 1154.4 495.0 1155.6 501.0 1156.3C507.0 1157.1 516.0 1157.5 520.0 1157.8C524.0 1158.2 518.3 1158.3 525.0 1158.5C531.7 1158.7 548.5 1158.9 560.0 1159.0C571.5 1159.1 588.3 1159.2 594.0 1159.3" stroke="#4472c4" stroke-width="2.6"/>
<path d="M85.0 1156.7C87.7 1156.4 95.9 1156.0 101.3 1155.0C106.8 1154.1 112.2 1152.2 117.6 1151.0C123.1 1149.7 128.5 1149.1 134.0 1147.7C139.4 1146.3 144.8 1145.3 150.3 1142.8C155.7 1140.4 161.2 1137.6 166.6 1133.0C172.0 1128.4 178.0 1122.1 182.9 1115.1C187.8 1108.0 192.2 1098.7 196.0 1090.6C199.8 1082.4 202.8 1074.3 205.8 1066.1C208.8 1057.9 211.5 1049.0 213.9 1041.6C216.4 1034.3 218.3 1029.4 220.5 1022.0C222.6 1014.7 223.9 1012.5 227.0 997.5C230.1 982.5 235.6 949.3 238.8 932.0C242.0 914.7 243.9 905.2 246.4 893.8C249.0 882.3 251.5 872.1 254.1 863.2C256.6 854.3 259.2 846.3 261.7 840.3C264.3 834.2 267.0 829.9 269.4 826.9C271.8 823.9 273.8 822.4 276.1 822.1C278.3 821.8 280.4 822.6 282.7 825.0C285.1 827.4 287.8 831.3 290.4 836.4C292.9 841.5 295.5 847.9 298.0 855.5C300.6 863.2 303.4 873.4 305.7 882.3C307.9 891.2 309.1 896.6 311.4 909.0C313.7 921.5 316.8 943.7 319.5 957.0C322.3 970.2 325.2 978.4 328.0 988.6C330.8 998.8 333.6 1009.0 336.4 1018.2C339.2 1027.3 342.0 1035.7 344.9 1043.5C347.7 1051.2 350.5 1058.2 353.3 1064.6C356.1 1070.9 358.9 1076.5 361.7 1081.4C364.5 1086.4 367.4 1090.2 370.2 1094.1C373.0 1098.0 375.8 1101.5 378.6 1104.7C381.4 1107.8 384.2 1110.6 387.1 1113.1C389.9 1115.6 392.0 1117.3 395.5 1119.4C399.0 1121.5 403.9 1124.0 408.2 1125.8C412.4 1127.5 416.6 1128.2 420.8 1130.0C425.0 1131.7 429.3 1134.5 433.5 1136.3C437.7 1138.1 441.9 1139.1 446.1 1140.5C450.4 1141.9 453.9 1143.0 458.8 1144.7C463.7 1146.5 470.0 1149.3 475.7 1151.1C481.3 1152.8 485.2 1154.2 492.5 1155.3C499.9 1156.4 514.6 1157.3 520.0 1157.8C525.4 1158.4 518.3 1158.3 525.0 1158.5C531.7 1158.7 548.5 1158.9 560.0 1159.0C571.5 1159.1 588.3 1159.2 594.0 1159.3" stroke="#ed7d31" stroke-width="3.0" stroke-dasharray="6.6 6.9" stroke-linecap="round"/>
<path d="M85.0 1158.3C90.4 1158.0 109.5 1157.6 117.6 1156.7C125.8 1155.7 128.5 1154.1 134.0 1152.6C139.4 1151.1 144.8 1149.9 150.3 1147.7C155.7 1145.5 161.2 1143.1 166.6 1139.5C172.0 1136.0 177.5 1131.9 182.9 1126.5C188.4 1121.0 194.4 1114.0 199.3 1106.9C204.1 1099.8 208.2 1092.2 212.3 1084.0C216.4 1075.9 220.5 1065.8 223.7 1057.9C227.0 1050.0 229.4 1043.5 231.9 1036.7C234.3 1029.9 236.2 1023.9 238.4 1017.1C240.6 1010.3 243.0 1003.1 245.0 995.9C246.9 988.7 248.1 981.2 250.3 974.0C252.4 966.9 255.4 959.0 257.9 953.0C260.4 946.9 263.0 941.8 265.5 937.7C268.1 933.6 270.6 930.4 273.2 928.2C275.7 925.9 278.3 925.3 280.8 924.3C283.4 923.4 286.2 922.1 288.5 922.4C290.7 922.7 292.5 924.0 294.2 926.2C295.9 928.5 297.5 934.0 298.4 935.9C299.4 937.8 298.5 935.2 299.9 937.7C301.3 940.2 304.3 946.2 306.9 950.6C309.4 955.1 312.4 958.8 315.2 964.5C318.0 970.1 320.9 978.3 323.8 984.4C326.6 990.5 329.4 995.6 332.2 1001.3C335.0 1006.9 337.8 1012.5 340.6 1018.2C343.5 1023.8 346.3 1029.8 349.1 1035.0C351.9 1040.3 354.7 1044.5 357.5 1049.8C360.3 1055.1 363.1 1061.8 366.0 1066.7C368.8 1071.6 371.6 1075.5 374.4 1079.3C377.2 1083.2 380.0 1086.4 382.8 1089.9C385.6 1093.4 388.5 1097.3 391.3 1100.4C394.1 1103.6 396.9 1106.4 399.7 1108.9C402.5 1111.3 405.3 1112.7 408.2 1115.2C411.0 1117.7 413.8 1121.2 416.6 1123.6C419.4 1126.1 421.5 1127.9 425.0 1130.0C428.5 1132.1 433.5 1134.2 437.7 1136.3C441.9 1138.4 446.1 1140.7 450.4 1142.6C454.6 1144.6 458.1 1146.2 463.0 1147.9C467.9 1149.7 473.6 1151.6 479.9 1153.2C486.2 1154.8 494.3 1156.5 501.0 1157.4C507.7 1158.3 516.0 1158.3 520.0 1158.5C524.0 1158.6 518.3 1158.4 525.0 1158.5C531.7 1158.6 548.5 1158.9 560.0 1159.0C571.5 1159.1 588.3 1159.2 594.0 1159.3" stroke="#ed7d31" stroke-width="2.6"/>
</g>
<clipPath id="clipP"><rect x="741.5" y="647.0" width="518.0" height="517.2"/></clipPath>
<g clip-path="url(#clipP)" fill="none" stroke-linejoin="round">
<path d="M740.0 1163.1C760.8 1163.1 842.1 1163.5 865.0 1163.1C887.9 1162.7 874.2 1161.4 877.5 1160.6C880.8 1159.9 882.3 1158.5 885.0 1158.8C887.7 1159.0 890.0 1162.6 893.8 1161.9C897.5 1161.1 904.1 1156.4 907.6 1154.3C911.1 1152.1 912.2 1150.6 914.9 1148.8C917.7 1146.9 921.0 1145.4 924.1 1143.3C927.1 1141.1 930.2 1136.9 933.2 1135.9C936.3 1135.0 939.4 1137.5 942.4 1137.8C945.5 1138.1 948.8 1138.4 951.6 1137.8C954.3 1137.2 956.4 1133.8 958.9 1134.1C961.3 1134.4 963.8 1140.2 966.2 1139.6C968.7 1139.0 971.1 1133.8 973.5 1130.4C976.0 1127.1 978.4 1121.6 980.9 1119.5C983.3 1117.3 985.7 1117.0 988.2 1117.6C990.6 1118.2 993.1 1123.7 995.5 1123.1C998.0 1122.5 1001.2 1114.9 1002.8 1114.0C1004.5 1113.0 1004.1 1116.1 1005.5 1117.6C1006.9 1119.2 1009.2 1124.0 1011.0 1123.1C1012.8 1122.2 1014.6 1114.3 1016.5 1112.1C1018.3 1110.0 1019.5 1110.0 1022.0 1110.3C1024.4 1110.6 1028.4 1112.4 1031.1 1114.0C1033.9 1115.5 1036.0 1117.0 1038.5 1119.5C1040.9 1121.9 1043.3 1126.2 1045.8 1128.6C1048.2 1131.1 1050.7 1134.1 1053.1 1134.1C1055.5 1134.1 1057.7 1129.8 1060.4 1128.6C1063.2 1127.4 1066.5 1127.4 1069.6 1126.8C1072.6 1126.2 1076.0 1124.6 1078.7 1125.0C1081.5 1125.3 1083.9 1125.9 1086.1 1128.6C1088.2 1131.4 1089.7 1137.5 1091.6 1141.4C1093.4 1145.4 1095.2 1152.4 1097.1 1152.4C1098.9 1152.4 1101.0 1143.6 1102.5 1141.4C1104.1 1139.3 1105.0 1138.4 1106.2 1139.6C1107.4 1140.8 1108.8 1145.4 1109.9 1148.8C1110.9 1152.2 1111.6 1157.9 1112.5 1160.0C1113.4 1162.1 1114.1 1161.1 1115.4 1161.6C1116.6 1162.1 1118.2 1163.1 1120.0 1163.1C1121.8 1163.1 1124.4 1161.5 1126.4 1161.6C1128.3 1161.6 1109.6 1163.1 1131.8 1163.4C1154.1 1163.7 1238.6 1163.2 1260.0 1163.1" stroke="#a5a5a5" stroke-width="2.8" stroke-dasharray="6.6 6.9" stroke-linecap="round"/>
<path d="M740.0 1163.1C745.8 1163.1 768.5 1165.1 775.0 1163.1C781.5 1161.1 777.5 1152.4 778.8 1151.2C780.0 1150.1 781.2 1154.3 782.5 1156.2C783.8 1158.2 772.5 1162.0 786.2 1163.1C800.0 1164.3 849.8 1163.6 865.0 1163.1C880.2 1162.6 873.8 1160.7 877.5 1160.0C881.2 1159.3 885.4 1158.7 887.5 1158.8C889.6 1158.9 888.5 1161.5 890.0 1160.6C891.5 1159.7 893.1 1156.5 896.6 1153.3C900.2 1150.1 907.3 1144.3 911.3 1141.4C915.2 1138.5 916.8 1137.2 920.4 1135.9C924.1 1134.7 929.3 1134.7 933.2 1134.1C937.2 1133.5 941.2 1132.9 944.2 1132.3C947.3 1131.7 949.1 1132.3 951.6 1130.4C954.0 1128.6 956.4 1125.3 958.9 1121.3C961.3 1117.3 963.8 1111.2 966.2 1106.6C968.7 1102.1 971.1 1097.2 973.5 1093.8C976.0 1090.5 978.4 1088.9 980.9 1086.5C983.3 1084.1 985.7 1082.2 988.2 1079.2C990.6 1076.1 993.1 1071.2 995.5 1068.2C998.0 1065.1 1000.6 1062.7 1002.8 1060.9C1005.1 1059.0 1006.6 1059.0 1009.2 1057.2C1011.7 1055.4 1015.3 1052.2 1018.3 1049.9C1021.4 1047.6 1024.4 1045.8 1027.5 1043.5C1030.5 1041.2 1033.9 1036.9 1036.6 1036.1C1039.4 1035.4 1041.5 1036.9 1043.9 1038.9C1046.4 1040.9 1048.8 1045.3 1051.3 1048.0C1053.7 1050.8 1056.2 1053.2 1058.6 1055.4C1061.0 1057.5 1063.5 1057.8 1065.9 1060.9C1068.4 1063.9 1071.1 1068.2 1073.2 1073.7C1075.4 1079.2 1077.2 1090.8 1078.7 1093.8C1080.3 1096.9 1080.9 1092.9 1082.4 1092.0C1083.9 1091.1 1086.1 1086.2 1087.9 1088.3C1089.7 1090.5 1091.6 1099.0 1093.4 1104.8C1095.2 1110.6 1096.7 1118.5 1098.9 1123.1C1101.0 1127.7 1103.8 1129.8 1106.2 1132.3C1108.7 1134.7 1111.4 1136.9 1113.5 1137.8C1115.6 1138.6 1117.5 1136.9 1118.8 1137.5C1120.0 1138.1 1119.8 1140.2 1120.9 1141.4C1121.9 1142.7 1123.8 1143.8 1125.0 1145.0C1126.2 1146.2 1127.1 1147.9 1128.2 1148.8C1129.2 1149.6 1130.0 1149.4 1131.2 1150.0C1132.5 1150.6 1134.5 1152.0 1135.5 1152.4C1136.6 1152.8 1136.5 1151.7 1137.5 1152.5C1138.5 1153.3 1140.0 1155.7 1141.2 1157.5C1142.5 1159.3 1125.2 1162.2 1145.0 1163.1C1164.8 1164.1 1240.8 1163.1 1260.0 1163.1" stroke="#a5a5a5" stroke-width="2.4"/>
<path d="M740.0 1163.1C740.6 1162.6 742.5 1160.2 743.8 1160.0C745.0 1159.8 746.0 1161.4 747.5 1161.9C749.0 1162.4 750.0 1163.1 752.5 1163.1C755.0 1163.1 760.0 1162.4 762.5 1161.9C765.0 1161.4 765.8 1159.8 767.5 1160.0C769.2 1160.2 769.2 1163.1 772.5 1163.1C775.8 1163.1 784.2 1161.1 787.5 1160.0C790.8 1158.9 790.8 1156.5 792.5 1156.2C794.2 1156.0 795.8 1157.6 797.5 1158.8C799.2 1159.9 800.8 1163.5 802.5 1163.1C804.2 1162.7 806.2 1157.8 807.5 1156.2C808.8 1154.7 808.8 1153.5 810.0 1153.8C811.2 1154.0 813.1 1156.1 815.0 1157.5C816.9 1158.9 818.8 1161.5 821.2 1161.9C823.8 1162.3 827.5 1161.1 830.0 1160.0C832.5 1158.9 834.2 1155.0 836.2 1155.0C838.3 1155.0 840.6 1158.6 842.5 1160.0C844.4 1161.4 845.8 1163.1 847.5 1163.1C849.2 1163.1 850.4 1162.0 852.5 1160.0C854.6 1158.0 857.9 1153.3 860.0 1151.2C862.1 1149.2 862.9 1147.9 865.0 1147.5C867.1 1147.1 870.3 1149.5 872.5 1148.8C874.7 1148.0 875.8 1143.9 878.3 1143.3C880.8 1142.7 884.4 1143.9 887.5 1145.1C890.5 1146.3 893.6 1148.8 896.6 1150.6C899.7 1152.4 903.0 1156.1 905.8 1156.1C908.5 1156.1 911.0 1153.3 913.1 1150.6C915.2 1147.8 917.1 1144.5 918.6 1139.6C920.1 1134.7 921.0 1126.8 922.3 1121.3C923.5 1115.8 924.7 1109.4 925.9 1106.6C927.1 1103.9 928.1 1108.2 929.6 1104.8C931.1 1101.5 933.2 1091.1 935.1 1086.5C936.9 1081.9 938.7 1079.8 940.6 1077.3C942.4 1074.9 944.2 1075.8 946.1 1071.8C947.9 1067.9 950.0 1059.6 951.6 1053.5C953.1 1047.4 953.7 1042.5 955.2 1035.2C956.7 1027.9 958.9 1017.8 960.7 1009.6C962.5 1001.3 964.4 991.9 966.2 985.8C968.0 979.7 969.2 982.2 971.7 973.0C974.2 963.7 978.2 943.7 981.0 930.2C983.8 916.7 986.1 904.1 988.7 892.0C991.2 879.9 993.8 868.4 996.3 857.6C998.9 846.8 1001.4 837.2 1003.9 827.0C1006.5 816.8 1009.4 805.0 1011.6 796.4C1013.8 787.8 1015.4 780.5 1017.3 775.4C1019.2 770.3 1021.1 769.7 1023.1 765.9C1025.0 762.0 1026.7 756.9 1028.8 752.5C1030.9 748.0 1033.6 740.4 1035.5 739.1C1037.4 737.8 1038.5 742.0 1040.3 744.8C1042.0 747.7 1044.1 752.5 1046.0 756.3C1047.9 760.1 1049.8 763.3 1051.7 767.8C1053.6 772.2 1055.5 777.3 1057.5 783.1C1059.4 788.8 1061.6 795.5 1063.2 802.2C1064.8 808.9 1065.4 815.2 1067.0 823.2C1068.6 831.1 1070.8 841.7 1072.7 849.9C1074.6 858.2 1076.6 864.9 1078.5 872.9C1080.4 880.8 1082.3 888.8 1084.2 897.7C1086.1 906.6 1088.1 915.4 1089.9 926.4C1091.8 937.4 1093.1 954.8 1095.2 963.8C1097.3 972.8 1100.4 974.2 1102.5 980.3C1104.7 986.4 1106.2 993.1 1108.0 1000.4C1109.9 1007.8 1111.7 1017.2 1113.5 1024.2C1115.4 1031.3 1117.2 1035.8 1119.0 1042.5C1120.9 1049.3 1122.7 1057.5 1124.5 1064.5C1126.4 1071.5 1127.9 1078.9 1130.0 1084.7C1132.2 1090.5 1135.3 1094.7 1137.3 1099.3C1139.4 1104.0 1140.8 1108.2 1142.5 1112.5C1144.2 1116.8 1145.8 1121.7 1147.5 1125.0C1149.2 1128.3 1150.8 1130.0 1152.5 1132.5C1154.2 1135.0 1156.0 1137.5 1157.5 1140.0C1159.0 1142.5 1160.0 1145.4 1161.2 1147.5C1162.5 1149.6 1163.8 1152.9 1165.0 1152.5C1166.2 1152.1 1167.5 1146.5 1168.8 1145.0C1170.0 1143.5 1171.5 1142.9 1172.5 1143.8C1173.5 1144.6 1174.2 1147.5 1175.0 1150.0C1175.8 1152.5 1176.5 1156.8 1177.5 1158.8C1178.5 1160.7 1179.6 1162.1 1181.2 1161.9C1182.9 1161.7 1186.0 1158.6 1187.5 1157.5C1189.0 1156.4 1189.0 1154.8 1190.0 1155.0C1191.0 1155.2 1192.1 1157.9 1193.8 1158.8C1195.4 1159.6 1197.9 1161.0 1200.0 1160.0C1202.1 1159.0 1204.6 1153.3 1206.2 1152.5C1207.9 1151.7 1209.0 1153.8 1210.0 1155.0C1211.0 1156.2 1211.2 1158.9 1212.5 1160.0C1213.8 1161.1 1215.4 1161.9 1217.5 1161.9C1219.6 1161.9 1222.7 1160.5 1225.0 1160.0C1227.3 1159.5 1229.2 1158.8 1231.2 1158.8C1233.3 1158.8 1235.4 1159.6 1237.5 1160.0C1239.6 1160.4 1241.7 1160.8 1243.8 1161.2C1245.8 1161.7 1247.3 1162.2 1250.0 1162.5C1252.7 1162.8 1258.3 1163.0 1260.0 1163.1" stroke="#4472c4" stroke-width="3.0" stroke-dasharray="6.6 6.9" stroke-linecap="round"/>
<path d="M740.0 1163.1C743.1 1162.9 753.5 1161.9 758.8 1161.9C764.0 1161.9 766.0 1163.8 771.2 1163.1C776.5 1162.5 785.6 1159.3 790.0 1158.1C794.4 1157.0 794.8 1155.4 797.5 1156.2C800.2 1157.1 802.9 1162.2 806.2 1163.1C809.6 1164.1 814.0 1162.4 817.5 1161.9C821.0 1161.4 824.4 1161.1 827.5 1160.0C830.6 1158.9 833.5 1154.5 836.2 1155.0C839.0 1155.5 841.0 1162.0 843.8 1163.1C846.5 1164.3 850.0 1162.3 852.5 1161.9C855.0 1161.5 856.3 1162.2 858.8 1160.6C861.2 1159.0 864.4 1153.6 867.3 1152.4C870.3 1151.2 873.4 1153.9 876.5 1153.3C879.5 1152.7 882.6 1151.4 885.6 1148.8C888.7 1146.2 892.4 1142.0 894.8 1137.8C897.2 1133.5 898.5 1126.9 900.3 1123.1C902.1 1119.3 903.6 1116.3 905.8 1114.9C907.9 1113.5 910.4 1115.0 913.1 1114.9C915.9 1114.7 920.1 1116.3 922.3 1114.0C924.4 1111.7 924.7 1106.9 925.9 1101.1C927.1 1095.3 928.4 1083.4 929.6 1079.2C930.8 1074.9 932.0 1075.8 933.2 1075.5C934.5 1075.2 935.7 1076.7 936.9 1077.3C938.1 1078.0 939.0 1079.8 940.6 1079.2C942.1 1078.6 944.2 1077.3 946.1 1073.7C947.9 1070.0 950.0 1063.6 951.6 1057.2C953.1 1050.8 954.0 1039.8 955.2 1035.2C956.4 1030.6 957.1 1030.5 958.9 1029.7C960.7 1029.0 963.8 1031.6 966.2 1030.6C968.7 1029.7 971.4 1029.6 973.5 1024.2C975.7 1018.9 977.5 1005.0 979.0 998.6C980.6 992.2 981.2 988.4 982.7 985.8C984.2 983.2 986.4 983.9 988.2 983.0C990.0 982.1 991.8 982.3 993.7 980.3C995.5 978.3 997.3 976.0 999.2 971.1C1001.0 966.2 1002.6 960.0 1004.7 951.0C1006.7 941.9 1009.5 925.4 1011.6 916.8C1013.7 908.3 1015.4 903.3 1017.3 899.6C1019.2 896.0 1020.8 895.8 1023.1 894.8C1025.3 893.9 1028.5 894.4 1030.7 893.9C1032.9 893.4 1034.2 893.9 1036.4 892.0C1038.7 890.1 1041.8 883.1 1044.1 882.4C1046.3 881.8 1047.9 885.0 1049.8 888.2C1051.7 891.3 1053.9 896.8 1055.5 901.5C1057.1 906.3 1058.1 913.3 1059.4 916.8C1060.6 920.3 1061.8 921.0 1063.2 922.5C1064.6 924.1 1066.7 924.5 1068.0 926.4C1069.2 928.3 1069.7 930.2 1070.8 934.0C1071.9 937.8 1072.7 943.4 1074.6 949.3C1076.6 955.2 1080.5 964.7 1082.4 969.3C1084.3 973.9 1084.8 972.4 1086.1 976.6C1087.3 980.9 1088.5 987.3 1089.7 994.9C1091.0 1002.6 1091.9 1014.2 1093.4 1022.4C1094.9 1030.6 1097.1 1037.4 1098.9 1044.4C1100.7 1051.4 1102.5 1056.0 1104.4 1064.5C1106.2 1073.1 1108.7 1089.3 1109.9 1095.7C1111.0 1102.0 1110.6 1100.4 1111.2 1102.5C1111.9 1104.6 1112.9 1107.6 1113.5 1108.5C1114.2 1109.3 1114.1 1108.1 1115.0 1107.5C1115.9 1106.9 1117.5 1104.6 1118.8 1105.0C1120.0 1105.4 1121.2 1107.5 1122.5 1110.0C1123.8 1112.5 1125.3 1116.9 1126.2 1120.0C1127.2 1123.1 1127.6 1126.7 1128.2 1128.6C1128.8 1130.5 1129.1 1129.4 1130.0 1131.2C1130.9 1133.1 1132.5 1137.1 1133.8 1140.0C1135.0 1142.9 1136.2 1145.6 1137.5 1148.8C1138.8 1151.9 1140.2 1156.4 1141.2 1158.8C1142.3 1161.1 1140.2 1162.4 1143.8 1163.1C1147.3 1163.9 1143.1 1163.1 1162.5 1163.1C1181.9 1163.1 1243.8 1163.1 1260.0 1163.1" stroke="#4472c4" stroke-width="2.6"/>
<path d="M740.0 1163.1C741.7 1162.9 747.5 1162.6 750.0 1161.9C752.5 1161.1 753.3 1160.3 755.0 1158.8C756.7 1157.2 758.5 1153.8 760.0 1152.5C761.5 1151.2 762.5 1151.0 763.8 1151.2C765.0 1151.5 766.0 1152.5 767.5 1153.8C769.0 1155.0 770.8 1157.7 772.5 1158.8C774.2 1159.8 775.8 1160.6 777.5 1160.0C779.2 1159.4 780.8 1156.2 782.5 1155.0C784.2 1153.8 785.8 1152.1 787.5 1152.5C789.2 1152.9 790.8 1155.7 792.5 1157.5C794.2 1159.3 793.8 1162.2 797.5 1163.1C801.2 1164.1 810.0 1163.3 815.0 1163.1C820.0 1162.9 823.8 1162.4 827.5 1161.9C831.2 1161.4 834.8 1160.9 837.5 1160.0C840.2 1159.1 841.7 1157.5 843.8 1156.2C845.8 1155.0 848.1 1153.5 850.0 1152.5C851.9 1151.5 853.3 1150.6 855.0 1150.0C856.7 1149.4 858.3 1149.2 860.0 1148.8C861.7 1148.3 862.9 1146.9 865.0 1147.5C867.1 1148.1 870.4 1151.2 872.5 1152.5C874.6 1153.8 875.4 1155.4 877.5 1155.0C879.6 1154.6 881.8 1152.3 885.0 1150.0C888.2 1147.7 893.2 1143.5 896.6 1141.4C900.1 1139.4 902.7 1139.0 905.8 1137.8C908.8 1136.5 911.9 1135.3 914.9 1134.1C918.0 1132.9 921.0 1132.3 924.1 1130.4C927.1 1128.6 930.2 1125.3 933.2 1123.1C936.3 1121.0 939.7 1120.4 942.4 1117.6C945.2 1114.9 947.6 1109.4 949.7 1106.6C951.9 1103.9 953.4 1101.5 955.2 1101.1C957.1 1100.8 958.9 1102.7 960.7 1104.8C962.5 1106.9 964.4 1111.5 966.2 1114.0C968.0 1116.4 969.6 1120.4 971.7 1119.5C973.8 1118.5 976.3 1111.2 979.0 1108.5C981.8 1105.7 985.4 1104.2 988.2 1103.0C990.9 1101.8 992.8 1104.8 995.5 1101.1C998.3 1097.5 1001.8 1084.5 1004.7 1081.0C1007.6 1077.5 1010.2 1080.1 1012.8 1080.1C1015.4 1080.1 1018.0 1079.3 1020.1 1081.0C1022.3 1082.7 1023.8 1087.7 1025.6 1090.2C1027.5 1092.6 1029.3 1095.7 1031.1 1095.7C1033.0 1095.7 1034.8 1093.8 1036.6 1090.2C1038.5 1086.5 1040.3 1078.6 1042.1 1073.7C1043.9 1068.8 1045.8 1061.2 1047.6 1060.9C1049.4 1060.6 1051.6 1069.4 1053.1 1071.8C1054.6 1074.3 1054.9 1075.8 1056.8 1075.5C1058.6 1075.2 1061.7 1071.8 1064.1 1070.0C1066.5 1068.2 1069.0 1066.4 1071.4 1064.5C1073.9 1062.7 1076.3 1059.0 1078.7 1059.0C1081.2 1059.0 1083.9 1063.0 1086.1 1064.5C1088.2 1066.0 1089.7 1067.6 1091.6 1068.2C1093.4 1068.8 1095.2 1065.1 1097.1 1068.2C1098.9 1071.2 1100.4 1081.0 1102.5 1086.5C1104.7 1092.0 1107.1 1096.6 1109.9 1101.1C1112.6 1105.7 1116.0 1109.4 1119.0 1114.0C1122.1 1118.5 1126.1 1125.5 1128.2 1128.6C1130.2 1131.7 1129.7 1131.0 1131.2 1132.5C1132.8 1134.0 1135.5 1135.1 1137.3 1137.8C1139.2 1140.5 1140.8 1145.5 1142.5 1148.8C1144.2 1152.0 1146.0 1155.1 1147.5 1157.5C1149.0 1159.9 1149.8 1163.5 1151.2 1163.1C1152.7 1162.7 1154.4 1157.4 1156.2 1155.0C1158.1 1152.6 1160.6 1149.2 1162.5 1148.8C1164.4 1148.3 1165.4 1150.6 1167.5 1152.5C1169.6 1154.4 1172.7 1158.2 1175.0 1160.0C1177.3 1161.8 1167.1 1162.6 1181.2 1163.1C1195.4 1163.6 1246.9 1163.1 1260.0 1163.1" stroke="#ed7d31" stroke-width="3.0" stroke-dasharray="6.6 6.9" stroke-linecap="round"/>
<path d="M740.0 1163.8C742.1 1163.8 748.3 1163.9 752.5 1163.8C756.7 1163.6 761.7 1164.4 765.0 1163.1C768.3 1161.9 770.4 1157.6 772.5 1156.2C774.6 1154.9 775.8 1154.4 777.5 1155.0C779.2 1155.6 780.8 1158.5 782.5 1160.0C784.2 1161.5 785.2 1163.1 787.5 1163.8C789.8 1164.4 793.3 1164.4 796.2 1163.8C799.2 1163.1 802.3 1161.9 805.0 1160.0C807.7 1158.1 810.0 1154.4 812.5 1152.5C815.0 1150.6 817.5 1148.5 820.0 1148.8C822.5 1149.0 825.8 1152.7 827.5 1153.8C829.2 1154.8 828.8 1156.2 830.0 1155.0C831.2 1153.8 833.3 1149.4 835.0 1146.2C836.7 1143.1 838.1 1139.0 840.0 1136.2C841.9 1133.5 844.2 1129.8 846.2 1130.0C848.3 1130.2 851.0 1136.2 852.5 1137.5C854.0 1138.8 853.8 1139.2 855.0 1137.5C856.2 1135.8 858.3 1130.0 860.0 1127.5C861.7 1125.0 862.9 1123.3 865.0 1122.5C867.1 1121.7 870.2 1122.9 872.5 1122.5C874.8 1122.1 876.7 1121.9 878.8 1120.0C880.8 1118.1 883.1 1113.8 885.0 1111.2C886.9 1108.8 888.1 1107.0 890.0 1105.0C891.9 1103.0 894.6 1102.7 896.6 1099.3C898.6 1095.9 900.3 1089.2 902.1 1084.7C903.9 1080.1 905.5 1075.8 907.6 1071.8C909.7 1067.9 912.5 1065.1 914.9 1060.9C917.4 1056.6 920.1 1052.0 922.3 1046.2C924.4 1040.4 926.2 1032.8 927.8 1026.1C929.3 1019.4 930.2 1010.2 931.4 1005.9C932.6 1001.7 933.2 1001.7 935.1 1000.4C936.9 999.2 940.3 999.5 942.4 998.6C944.5 997.7 946.1 998.3 947.9 994.9C949.7 991.6 951.6 982.7 953.4 978.5C955.2 974.2 957.1 970.2 958.9 969.3C960.7 968.4 962.9 973.3 964.4 973.0C965.9 972.7 966.2 974.0 968.0 967.5C969.9 961.0 973.1 940.5 975.3 934.0C977.4 927.5 979.1 930.8 981.0 928.3C982.9 925.7 984.8 921.3 986.8 918.7C988.7 916.2 990.9 913.0 992.5 913.0C994.1 913.0 995.0 917.1 996.3 918.7C997.6 920.3 998.9 925.4 1000.1 922.5C1001.4 919.7 1002.7 907.9 1003.9 901.5C1005.2 895.2 1006.7 888.3 1007.8 884.3C1008.9 880.4 1009.4 877.6 1010.6 877.6C1011.9 877.6 1013.7 881.6 1015.4 884.3C1017.2 887.0 1019.2 891.0 1021.1 893.9C1023.1 896.8 1025.0 901.2 1026.9 901.5C1028.8 901.8 1031.0 896.4 1032.6 895.8C1034.2 895.2 1035.2 895.2 1036.4 897.7C1037.7 900.3 1038.8 906.6 1040.3 911.1C1041.7 915.5 1043.4 921.9 1045.0 924.5C1046.6 927.0 1048.1 925.4 1049.8 926.4C1051.6 927.3 1053.6 927.0 1055.5 930.2C1057.5 933.4 1059.2 939.3 1061.3 945.5C1063.3 951.7 1065.8 959.2 1067.8 967.5C1069.8 975.7 1071.7 985.8 1073.2 994.9C1074.8 1004.1 1075.7 1016.0 1076.9 1022.4C1078.1 1028.8 1079.0 1031.3 1080.6 1033.4C1082.1 1035.5 1084.2 1032.5 1086.1 1035.2C1087.9 1038.0 1089.7 1044.4 1091.6 1049.9C1093.4 1055.4 1095.2 1062.4 1097.1 1068.2C1098.9 1074.0 1100.7 1079.2 1102.5 1084.7C1104.4 1090.2 1105.9 1096.3 1108.0 1101.1C1110.2 1106.0 1112.9 1110.3 1115.4 1114.0C1117.8 1117.6 1120.6 1119.2 1122.7 1123.1C1124.8 1127.1 1126.4 1136.2 1128.2 1137.8C1130.0 1139.3 1131.9 1131.7 1133.7 1132.3C1135.4 1132.9 1137.3 1138.5 1138.8 1141.2C1140.2 1144.0 1141.2 1146.2 1142.5 1148.8C1143.8 1151.2 1145.0 1153.9 1146.2 1156.2C1147.5 1158.6 1148.8 1162.9 1150.0 1163.1C1151.2 1163.3 1152.5 1159.3 1153.8 1157.5C1155.0 1155.7 1156.0 1154.0 1157.5 1152.5C1159.0 1151.0 1161.2 1150.0 1162.5 1148.8C1163.8 1147.5 1164.0 1144.4 1165.0 1145.0C1166.0 1145.6 1167.5 1150.2 1168.8 1152.5C1170.0 1154.8 1171.0 1157.1 1172.5 1158.8C1174.0 1160.4 1175.0 1161.8 1177.5 1162.5C1180.0 1163.2 1183.8 1163.2 1187.5 1163.1C1191.2 1163.0 1195.8 1162.2 1200.0 1161.9C1204.2 1161.6 1209.2 1162.2 1212.5 1161.2C1215.8 1160.3 1217.9 1157.9 1220.0 1156.2C1222.1 1154.6 1223.1 1152.4 1225.0 1151.2C1226.9 1150.1 1229.2 1149.2 1231.2 1149.4C1233.3 1149.6 1235.8 1150.9 1237.5 1152.5C1239.2 1154.1 1240.0 1157.0 1241.2 1158.8C1242.5 1160.5 1241.9 1162.4 1245.0 1163.1C1248.1 1163.9 1257.5 1163.1 1260.0 1163.1" stroke="#ed7d31" stroke-width="2.6"/>
</g>
</g>
</svg></body></html>
